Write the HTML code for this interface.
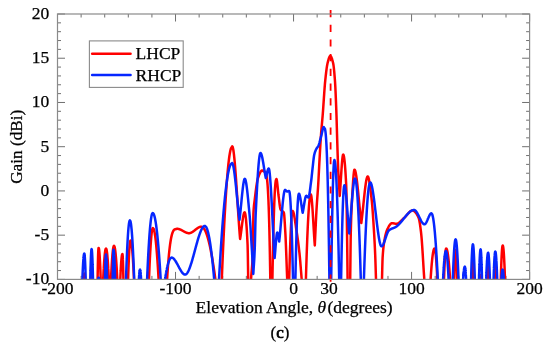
<!DOCTYPE html>
<html><head><meta charset="utf-8"><style>
html,body{margin:0;padding:0;background:#fff;}
svg{display:block;}
text{font-family:"Liberation Serif","Times New Roman",serif;fill:#000;stroke:#000;stroke-width:0.25px;}
</style></head><body>
<svg width="550" height="347" viewBox="0 0 550 347">
<rect width="550" height="347" fill="#fff"/>
<defs><clipPath id="pc"><rect x="57.5" y="14.0" width="472.1" height="265.4"/></clipPath></defs>
<g stroke="#707070" stroke-width="1.0" fill="none">
<line x1="57.50" y1="279.4" x2="57.50" y2="271.9"/><line x1="57.50" y1="14.0" x2="57.50" y2="21.5"/><line x1="81.11" y1="279.4" x2="81.11" y2="275.9"/><line x1="81.11" y1="14.0" x2="81.11" y2="17.5"/><line x1="104.71" y1="279.4" x2="104.71" y2="275.9"/><line x1="104.71" y1="14.0" x2="104.71" y2="17.5"/><line x1="128.31" y1="279.4" x2="128.31" y2="275.9"/><line x1="128.31" y1="14.0" x2="128.31" y2="17.5"/><line x1="151.92" y1="279.4" x2="151.92" y2="275.9"/><line x1="151.92" y1="14.0" x2="151.92" y2="17.5"/><line x1="175.53" y1="279.4" x2="175.53" y2="271.9"/><line x1="175.53" y1="14.0" x2="175.53" y2="21.5"/><line x1="199.13" y1="279.4" x2="199.13" y2="275.9"/><line x1="199.13" y1="14.0" x2="199.13" y2="17.5"/><line x1="222.74" y1="279.4" x2="222.74" y2="275.9"/><line x1="222.74" y1="14.0" x2="222.74" y2="17.5"/><line x1="246.34" y1="279.4" x2="246.34" y2="275.9"/><line x1="246.34" y1="14.0" x2="246.34" y2="17.5"/><line x1="269.94" y1="279.4" x2="269.94" y2="275.9"/><line x1="269.94" y1="14.0" x2="269.94" y2="17.5"/><line x1="293.55" y1="279.4" x2="293.55" y2="271.9"/><line x1="293.55" y1="14.0" x2="293.55" y2="21.5"/><line x1="317.15" y1="279.4" x2="317.15" y2="275.9"/><line x1="317.15" y1="14.0" x2="317.15" y2="17.5"/><line x1="340.76" y1="279.4" x2="340.76" y2="275.9"/><line x1="340.76" y1="14.0" x2="340.76" y2="17.5"/><line x1="364.37" y1="279.4" x2="364.37" y2="275.9"/><line x1="364.37" y1="14.0" x2="364.37" y2="17.5"/><line x1="387.97" y1="279.4" x2="387.97" y2="275.9"/><line x1="387.97" y1="14.0" x2="387.97" y2="17.5"/><line x1="411.57" y1="279.4" x2="411.57" y2="271.9"/><line x1="411.57" y1="14.0" x2="411.57" y2="21.5"/><line x1="435.18" y1="279.4" x2="435.18" y2="275.9"/><line x1="435.18" y1="14.0" x2="435.18" y2="17.5"/><line x1="458.79" y1="279.4" x2="458.79" y2="275.9"/><line x1="458.79" y1="14.0" x2="458.79" y2="17.5"/><line x1="482.39" y1="279.4" x2="482.39" y2="275.9"/><line x1="482.39" y1="14.0" x2="482.39" y2="17.5"/><line x1="506.00" y1="279.4" x2="506.00" y2="275.9"/><line x1="506.00" y1="14.0" x2="506.00" y2="17.5"/><line x1="529.60" y1="279.4" x2="529.60" y2="271.9"/><line x1="529.60" y1="14.0" x2="529.60" y2="21.5"/><line x1="57.5" y1="279.40" x2="65.0" y2="279.40"/><line x1="529.6" y1="279.40" x2="522.1" y2="279.40"/><line x1="57.5" y1="270.55" x2="61.0" y2="270.55"/><line x1="529.6" y1="270.55" x2="526.1" y2="270.55"/><line x1="57.5" y1="261.71" x2="61.0" y2="261.71"/><line x1="529.6" y1="261.71" x2="526.1" y2="261.71"/><line x1="57.5" y1="252.86" x2="61.0" y2="252.86"/><line x1="529.6" y1="252.86" x2="526.1" y2="252.86"/><line x1="57.5" y1="244.01" x2="61.0" y2="244.01"/><line x1="529.6" y1="244.01" x2="526.1" y2="244.01"/><line x1="57.5" y1="235.17" x2="65.0" y2="235.17"/><line x1="529.6" y1="235.17" x2="522.1" y2="235.17"/><line x1="57.5" y1="226.32" x2="61.0" y2="226.32"/><line x1="529.6" y1="226.32" x2="526.1" y2="226.32"/><line x1="57.5" y1="217.47" x2="61.0" y2="217.47"/><line x1="529.6" y1="217.47" x2="526.1" y2="217.47"/><line x1="57.5" y1="208.63" x2="61.0" y2="208.63"/><line x1="529.6" y1="208.63" x2="526.1" y2="208.63"/><line x1="57.5" y1="199.78" x2="61.0" y2="199.78"/><line x1="529.6" y1="199.78" x2="526.1" y2="199.78"/><line x1="57.5" y1="190.93" x2="65.0" y2="190.93"/><line x1="529.6" y1="190.93" x2="522.1" y2="190.93"/><line x1="57.5" y1="182.09" x2="61.0" y2="182.09"/><line x1="529.6" y1="182.09" x2="526.1" y2="182.09"/><line x1="57.5" y1="173.24" x2="61.0" y2="173.24"/><line x1="529.6" y1="173.24" x2="526.1" y2="173.24"/><line x1="57.5" y1="164.39" x2="61.0" y2="164.39"/><line x1="529.6" y1="164.39" x2="526.1" y2="164.39"/><line x1="57.5" y1="155.55" x2="61.0" y2="155.55"/><line x1="529.6" y1="155.55" x2="526.1" y2="155.55"/><line x1="57.5" y1="146.70" x2="65.0" y2="146.70"/><line x1="529.6" y1="146.70" x2="522.1" y2="146.70"/><line x1="57.5" y1="137.85" x2="61.0" y2="137.85"/><line x1="529.6" y1="137.85" x2="526.1" y2="137.85"/><line x1="57.5" y1="129.01" x2="61.0" y2="129.01"/><line x1="529.6" y1="129.01" x2="526.1" y2="129.01"/><line x1="57.5" y1="120.16" x2="61.0" y2="120.16"/><line x1="529.6" y1="120.16" x2="526.1" y2="120.16"/><line x1="57.5" y1="111.31" x2="61.0" y2="111.31"/><line x1="529.6" y1="111.31" x2="526.1" y2="111.31"/><line x1="57.5" y1="102.47" x2="65.0" y2="102.47"/><line x1="529.6" y1="102.47" x2="522.1" y2="102.47"/><line x1="57.5" y1="93.62" x2="61.0" y2="93.62"/><line x1="529.6" y1="93.62" x2="526.1" y2="93.62"/><line x1="57.5" y1="84.77" x2="61.0" y2="84.77"/><line x1="529.6" y1="84.77" x2="526.1" y2="84.77"/><line x1="57.5" y1="75.93" x2="61.0" y2="75.93"/><line x1="529.6" y1="75.93" x2="526.1" y2="75.93"/><line x1="57.5" y1="67.08" x2="61.0" y2="67.08"/><line x1="529.6" y1="67.08" x2="526.1" y2="67.08"/><line x1="57.5" y1="58.23" x2="65.0" y2="58.23"/><line x1="529.6" y1="58.23" x2="522.1" y2="58.23"/><line x1="57.5" y1="49.39" x2="61.0" y2="49.39"/><line x1="529.6" y1="49.39" x2="526.1" y2="49.39"/><line x1="57.5" y1="40.54" x2="61.0" y2="40.54"/><line x1="529.6" y1="40.54" x2="526.1" y2="40.54"/><line x1="57.5" y1="31.69" x2="61.0" y2="31.69"/><line x1="529.6" y1="31.69" x2="526.1" y2="31.69"/><line x1="57.5" y1="22.85" x2="61.0" y2="22.85"/><line x1="529.6" y1="22.85" x2="526.1" y2="22.85"/><line x1="57.5" y1="14.00" x2="65.0" y2="14.00"/><line x1="529.6" y1="14.00" x2="522.1" y2="14.00"/>
</g>
<g clip-path="url(#pc)" fill="none" stroke-width="2.5" stroke-linejoin="round" stroke-linecap="round">
<path d="M83.09,293.40 L83.80,279.40 L83.80,279.31 L83.81,279.23 L83.81,279.14 L83.82,279.06 L83.82,278.97 L83.83,278.89 L83.83,278.80 L83.84,278.72 L83.84,278.63 L83.85,278.54 L83.85,278.46 L83.85,278.37 L83.86,278.29 L83.86,278.20 L83.87,278.12 L83.87,278.03 L83.88,277.95 L83.88,277.86 L83.89,277.78 L83.89,277.69 L83.90,277.60 L83.90,277.52 L83.91,277.43 L83.92,277.35 L83.92,277.26 L83.93,277.18 L83.93,277.09 L83.94,277.01 L83.94,276.92 L83.95,276.83 L83.95,276.75 L83.96,276.66 L83.97,276.58 L83.97,276.49 L83.98,276.41 L83.99,276.32 L83.99,276.24 L84.00,276.15 L84.00,276.07 L84.01,275.98 L84.02,275.89 L84.02,275.81 L84.03,275.72 L84.04,275.64 L84.05,275.55 L84.05,275.47 L84.06,275.38 L84.07,275.30 L84.08,275.21 L84.09,275.12 L84.09,275.04 L84.10,274.95 L84.11,274.87 L84.12,274.78 L84.13,274.70 L84.14,274.61 L84.15,274.53 L84.16,274.44 L84.17,274.36 L84.18,274.27 L84.20,274.18 L84.21,274.10 L84.22,274.01 L84.24,273.93 L84.26,273.84 L84.27,273.76 L84.30,273.67 L84.33,273.59 L84.40,273.50 L84.47,273.59 L84.50,273.67 L84.53,273.76 L84.54,273.84 L84.56,273.93 L84.58,274.01 L84.59,274.10 L84.60,274.18 L84.62,274.27 L84.63,274.36 L84.64,274.44 L84.65,274.53 L84.66,274.61 L84.67,274.70 L84.68,274.78 L84.69,274.87 L84.70,274.95 L84.71,275.04 L84.71,275.12 L84.72,275.21 L84.73,275.30 L84.74,275.38 L84.75,275.47 L84.75,275.55 L84.76,275.64 L84.77,275.72 L84.78,275.81 L84.78,275.89 L84.79,275.98 L84.80,276.07 L84.80,276.15 L84.81,276.24 L84.81,276.32 L84.82,276.41 L84.83,276.49 L84.83,276.58 L84.84,276.66 L84.85,276.75 L84.85,276.83 L84.86,276.92 L84.86,277.01 L84.87,277.09 L84.87,277.18 L84.88,277.26 L84.88,277.35 L84.89,277.43 L84.90,277.52 L84.90,277.60 L84.91,277.69 L84.91,277.78 L84.92,277.86 L84.92,277.95 L84.93,278.03 L84.93,278.12 L84.94,278.20 L84.94,278.29 L84.95,278.37 L84.95,278.46 L84.95,278.54 L84.96,278.63 L84.96,278.72 L84.97,278.80 L84.97,278.89 L84.98,278.97 L84.98,279.06 L84.99,279.14 L84.99,279.23 L85.00,279.31 L85.00,279.40 L85.71,293.40 L90.66,293.40 L90.90,279.40 L90.90,279.15 L90.91,278.90 L90.91,278.64 L90.92,278.39 L90.92,278.14 L90.93,277.89 L90.93,277.63 L90.94,277.38 L90.94,277.13 L90.95,276.88 L90.95,276.63 L90.95,276.37 L90.96,276.12 L90.96,275.87 L90.97,275.62 L90.97,275.37 L90.98,275.11 L90.98,274.86 L90.99,274.61 L90.99,274.36 L91.00,274.10 L91.00,273.85 L91.01,273.60 L91.02,273.35 L91.02,273.10 L91.03,272.84 L91.03,272.59 L91.04,272.34 L91.04,272.09 L91.05,271.83 L91.05,271.58 L91.06,271.33 L91.07,271.08 L91.07,270.83 L91.08,270.57 L91.09,270.32 L91.09,270.07 L91.10,269.82 L91.10,269.57 L91.11,269.31 L91.12,269.06 L91.12,268.81 L91.13,268.56 L91.14,268.30 L91.15,268.05 L91.15,267.80 L91.16,267.55 L91.17,267.30 L91.18,267.04 L91.19,266.79 L91.19,266.54 L91.20,266.29 L91.21,266.03 L91.22,265.78 L91.23,265.53 L91.24,265.28 L91.25,265.03 L91.26,264.77 L91.27,264.52 L91.28,264.27 L91.30,264.02 L91.31,263.77 L91.32,263.51 L91.34,263.26 L91.36,263.01 L91.37,262.76 L91.40,262.50 L91.43,262.25 L91.50,262.00 L91.57,262.25 L91.60,262.50 L91.63,262.76 L91.64,263.01 L91.66,263.26 L91.68,263.51 L91.69,263.77 L91.70,264.02 L91.72,264.27 L91.73,264.52 L91.74,264.77 L91.75,265.03 L91.76,265.28 L91.77,265.53 L91.78,265.78 L91.79,266.03 L91.80,266.29 L91.81,266.54 L91.81,266.79 L91.82,267.04 L91.83,267.30 L91.84,267.55 L91.85,267.80 L91.85,268.05 L91.86,268.30 L91.87,268.56 L91.88,268.81 L91.88,269.06 L91.89,269.31 L91.90,269.57 L91.90,269.82 L91.91,270.07 L91.91,270.32 L91.92,270.57 L91.93,270.83 L91.93,271.08 L91.94,271.33 L91.95,271.58 L91.95,271.83 L91.96,272.09 L91.96,272.34 L91.97,272.59 L91.97,272.84 L91.98,273.10 L91.98,273.35 L91.99,273.60 L92.00,273.85 L92.00,274.10 L92.01,274.36 L92.01,274.61 L92.02,274.86 L92.02,275.11 L92.03,275.37 L92.03,275.62 L92.04,275.87 L92.04,276.12 L92.05,276.37 L92.05,276.63 L92.05,276.88 L92.06,277.13 L92.06,277.38 L92.07,277.63 L92.07,277.89 L92.08,278.14 L92.08,278.39 L92.09,278.64 L92.09,278.90 L92.10,279.15 L92.10,279.40 L92.34,293.40 L97.38,293.40 L97.60,279.40 L97.61,278.94 L97.61,278.49 L97.62,278.03 L97.63,277.57 L97.64,277.12 L97.64,276.66 L97.65,276.20 L97.66,275.75 L97.67,275.29 L97.68,274.83 L97.68,274.38 L97.69,273.92 L97.70,273.47 L97.71,273.01 L97.72,272.55 L97.72,272.10 L97.73,271.64 L97.74,271.18 L97.75,270.73 L97.76,270.27 L97.77,269.81 L97.77,269.36 L97.78,268.90 L97.79,268.44 L97.80,267.99 L97.81,267.53 L97.82,267.07 L97.83,266.62 L97.84,266.16 L97.85,265.70 L97.86,265.25 L97.87,264.79 L97.88,264.33 L97.89,263.88 L97.90,263.42 L97.91,262.97 L97.92,262.51 L97.93,262.05 L97.94,261.60 L97.95,261.14 L97.96,260.68 L97.97,260.23 L97.99,259.77 L98.00,259.31 L98.01,258.86 L98.02,258.40 L98.04,257.94 L98.05,257.49 L98.06,257.03 L98.08,256.57 L98.09,256.12 L98.10,255.66 L98.12,255.20 L98.13,254.75 L98.15,254.29 L98.17,253.83 L98.18,253.38 L98.20,252.92 L98.22,252.47 L98.24,252.01 L98.26,251.55 L98.28,251.10 L98.31,250.64 L98.33,250.18 L98.36,249.73 L98.39,249.27 L98.43,248.81 L98.48,248.36 L98.60,247.90 L98.85,248.36 L98.96,248.81 L99.04,249.27 L99.11,249.73 L99.17,250.18 L99.22,250.64 L99.27,251.10 L99.32,251.55 L99.36,252.01 L99.40,252.47 L99.44,252.92 L99.48,253.38 L99.51,253.83 L99.55,254.29 L99.58,254.75 L99.61,255.20 L99.64,255.66 L99.67,256.12 L99.70,256.57 L99.73,257.03 L99.76,257.49 L99.79,257.94 L99.81,258.40 L99.84,258.86 L99.86,259.31 L99.89,259.77 L99.91,260.23 L99.94,260.68 L99.96,261.14 L99.98,261.60 L100.01,262.05 L100.03,262.51 L100.05,262.97 L100.07,263.42 L100.10,263.88 L100.12,264.33 L100.14,264.79 L100.16,265.25 L100.18,265.70 L100.20,266.16 L100.22,266.62 L100.24,267.07 L100.26,267.53 L100.28,267.99 L100.30,268.44 L100.31,268.90 L100.33,269.36 L100.35,269.81 L100.37,270.27 L100.39,270.73 L100.41,271.18 L100.42,271.64 L100.44,272.10 L100.46,272.55 L100.47,273.01 L100.49,273.47 L100.51,273.92 L100.53,274.38 L100.54,274.83 L100.56,275.29 L100.57,275.75 L100.59,276.20 L100.61,276.66 L100.62,277.12 L100.64,277.57 L100.65,278.03 L100.67,278.49 L100.68,278.94 L100.70,279.40 L101.17,293.40 L102.57,293.40 L103.20,279.40 L103.22,278.95 L103.24,278.50 L103.26,278.06 L103.28,277.61 L103.30,277.16 L103.32,276.71 L103.35,276.27 L103.37,275.82 L103.39,275.37 L103.41,274.92 L103.43,274.47 L103.46,274.03 L103.48,273.58 L103.50,273.13 L103.52,272.68 L103.55,272.23 L103.57,271.79 L103.59,271.34 L103.62,270.89 L103.64,270.44 L103.66,270.00 L103.69,269.55 L103.71,269.10 L103.74,268.65 L103.76,268.20 L103.79,267.76 L103.82,267.31 L103.84,266.86 L103.87,266.41 L103.89,265.97 L103.92,265.52 L103.95,265.07 L103.98,264.62 L104.01,264.17 L104.03,263.73 L104.06,263.28 L104.09,262.83 L104.12,262.38 L104.15,261.93 L104.18,261.49 L104.22,261.04 L104.25,260.59 L104.28,260.14 L104.31,259.70 L104.35,259.25 L104.38,258.80 L104.42,258.35 L104.46,257.90 L104.49,257.46 L104.53,257.01 L104.57,256.56 L104.61,256.11 L104.65,255.67 L104.69,255.22 L104.74,254.77 L104.78,254.32 L104.83,253.87 L104.88,253.43 L104.93,252.98 L104.99,252.53 L105.05,252.08 L105.11,251.63 L105.17,251.19 L105.25,250.74 L105.33,250.29 L105.42,249.84 L105.52,249.40 L105.66,248.95 L106.00,248.50 L106.34,248.95 L106.48,249.40 L106.58,249.84 L106.67,250.29 L106.75,250.74 L106.83,251.19 L106.89,251.63 L106.95,252.08 L107.01,252.53 L107.07,252.98 L107.12,253.43 L107.17,253.87 L107.22,254.32 L107.26,254.77 L107.31,255.22 L107.35,255.67 L107.39,256.11 L107.43,256.56 L107.47,257.01 L107.51,257.46 L107.54,257.90 L107.58,258.35 L107.62,258.80 L107.65,259.25 L107.69,259.70 L107.72,260.14 L107.75,260.59 L107.78,261.04 L107.82,261.49 L107.85,261.93 L107.88,262.38 L107.91,262.83 L107.94,263.28 L107.97,263.73 L107.99,264.17 L108.02,264.62 L108.05,265.07 L108.08,265.52 L108.11,265.97 L108.13,266.41 L108.16,266.86 L108.18,267.31 L108.21,267.76 L108.24,268.20 L108.26,268.65 L108.29,269.10 L108.31,269.55 L108.34,270.00 L108.36,270.44 L108.38,270.89 L108.41,271.34 L108.43,271.79 L108.45,272.23 L108.48,272.68 L108.50,273.13 L108.52,273.58 L108.54,274.03 L108.57,274.47 L108.59,274.92 L108.61,275.37 L108.63,275.82 L108.65,276.27 L108.68,276.71 L108.70,277.16 L108.72,277.61 L108.74,278.06 L108.76,278.50 L108.78,278.95 L108.80,279.40 L109.43,293.40 L110.38,293.40 L111.00,279.40 L111.02,278.91 L111.04,278.43 L111.07,277.94 L111.09,277.45 L111.11,276.97 L111.13,276.48 L111.16,275.99 L111.18,275.50 L111.20,275.02 L111.23,274.53 L111.25,274.04 L111.27,273.56 L111.30,273.07 L111.32,272.58 L111.35,272.10 L111.37,271.61 L111.40,271.12 L111.42,270.63 L111.45,270.15 L111.47,269.66 L111.50,269.17 L111.52,268.69 L111.55,268.20 L111.58,267.71 L111.60,267.23 L111.63,266.74 L111.66,266.25 L111.69,265.77 L111.72,265.28 L111.74,264.79 L111.77,264.30 L111.80,263.82 L111.83,263.33 L111.86,262.84 L111.89,262.36 L111.93,261.87 L111.96,261.38 L111.99,260.90 L112.02,260.41 L112.06,259.92 L112.09,259.43 L112.12,258.95 L112.16,258.46 L112.19,257.97 L112.23,257.49 L112.27,257.00 L112.31,256.51 L112.34,256.03 L112.38,255.54 L112.43,255.05 L112.47,254.57 L112.51,254.08 L112.56,253.59 L112.60,253.10 L112.65,252.62 L112.70,252.13 L112.75,251.64 L112.80,251.16 L112.86,250.67 L112.92,250.18 L112.98,249.70 L113.04,249.21 L113.12,248.72 L113.19,248.23 L113.28,247.75 L113.37,247.26 L113.49,246.77 L113.64,246.29 L114.00,245.80 L114.40,246.29 L114.56,246.77 L114.69,247.26 L114.79,247.75 L114.89,248.23 L114.97,248.72 L115.05,249.21 L115.12,249.70 L115.19,250.18 L115.26,250.67 L115.32,251.16 L115.38,251.64 L115.43,252.13 L115.49,252.62 L115.54,253.10 L115.59,253.59 L115.64,254.08 L115.69,254.57 L115.73,255.05 L115.78,255.54 L115.82,256.03 L115.86,256.51 L115.91,257.00 L115.95,257.49 L115.99,257.97 L116.03,258.46 L116.06,258.95 L116.10,259.43 L116.14,259.92 L116.18,260.41 L116.21,260.90 L116.25,261.38 L116.28,261.87 L116.32,262.36 L116.35,262.84 L116.38,263.33 L116.42,263.82 L116.45,264.30 L116.48,264.79 L116.51,265.28 L116.54,265.77 L116.57,266.25 L116.61,266.74 L116.64,267.23 L116.66,267.71 L116.69,268.20 L116.72,268.69 L116.75,269.17 L116.78,269.66 L116.81,270.15 L116.84,270.63 L116.86,271.12 L116.89,271.61 L116.92,272.10 L116.95,272.58 L116.97,273.07 L117.00,273.56 L117.03,274.04 L117.05,274.53 L117.08,275.02 L117.10,275.50 L117.13,275.99 L117.15,276.48 L117.18,276.97 L117.20,277.45 L117.23,277.94 L117.25,278.43 L117.28,278.91 L117.30,279.40 L117.99,293.40 L119.72,293.40 L120.30,279.40 L120.32,279.03 L120.33,278.66 L120.35,278.30 L120.36,277.93 L120.38,277.56 L120.39,277.19 L120.41,276.82 L120.43,276.46 L120.44,276.09 L120.46,275.72 L120.47,275.35 L120.49,274.98 L120.51,274.61 L120.53,274.25 L120.54,273.88 L120.56,273.51 L120.58,273.14 L120.59,272.77 L120.61,272.41 L120.63,272.04 L120.65,271.67 L120.67,271.30 L120.69,270.93 L120.70,270.57 L120.72,270.20 L120.74,269.83 L120.76,269.46 L120.78,269.09 L120.80,268.72 L120.82,268.36 L120.84,267.99 L120.86,267.62 L120.88,267.25 L120.90,266.88 L120.93,266.52 L120.95,266.15 L120.97,265.78 L120.99,265.41 L121.02,265.04 L121.04,264.68 L121.06,264.31 L121.09,263.94 L121.11,263.57 L121.14,263.20 L121.16,262.83 L121.19,262.47 L121.21,262.10 L121.24,261.73 L121.27,261.36 L121.30,260.99 L121.33,260.63 L121.36,260.26 L121.39,259.89 L121.42,259.52 L121.45,259.15 L121.49,258.79 L121.52,258.42 L121.56,258.05 L121.60,257.68 L121.64,257.31 L121.68,256.94 L121.73,256.58 L121.78,256.21 L121.83,255.84 L121.89,255.47 L121.96,255.10 L122.04,254.74 L122.15,254.37 L122.40,254.00 L122.52,254.37 L122.57,254.74 L122.61,255.10 L122.64,255.47 L122.67,255.84 L122.69,256.21 L122.72,256.58 L122.74,256.94 L122.76,257.31 L122.78,257.68 L122.80,258.05 L122.82,258.42 L122.83,258.79 L122.85,259.15 L122.87,259.52 L122.88,259.89 L122.90,260.26 L122.91,260.63 L122.92,260.99 L122.94,261.36 L122.95,261.73 L122.96,262.10 L122.98,262.47 L122.99,262.83 L123.00,263.20 L123.01,263.57 L123.03,263.94 L123.04,264.31 L123.05,264.68 L123.06,265.04 L123.07,265.41 L123.08,265.78 L123.09,266.15 L123.10,266.52 L123.11,266.88 L123.12,267.25 L123.13,267.62 L123.14,267.99 L123.15,268.36 L123.16,268.72 L123.17,269.09 L123.18,269.46 L123.19,269.83 L123.20,270.20 L123.21,270.57 L123.22,270.93 L123.23,271.30 L123.23,271.67 L123.24,272.04 L123.25,272.41 L123.26,272.77 L123.27,273.14 L123.28,273.51 L123.28,273.88 L123.29,274.25 L123.30,274.61 L123.31,274.98 L123.32,275.35 L123.32,275.72 L123.33,276.09 L123.34,276.46 L123.35,276.82 L123.36,277.19 L123.36,277.56 L123.37,277.93 L123.38,278.30 L123.39,278.66 L123.39,279.03 L123.40,279.40 L123.68,293.40 L127.67,293.40 L128.10,279.40 L128.12,278.84 L128.14,278.27 L128.15,277.71 L128.17,277.14 L128.19,276.58 L128.21,276.02 L128.22,275.45 L128.24,274.89 L128.26,274.33 L128.28,273.76 L128.30,273.20 L128.32,272.63 L128.34,272.07 L128.36,271.51 L128.38,270.94 L128.40,270.38 L128.42,269.82 L128.44,269.25 L128.46,268.69 L128.48,268.12 L128.50,267.56 L128.52,267.00 L128.54,266.43 L128.56,265.87 L128.58,265.31 L128.61,264.74 L128.63,264.18 L128.65,263.61 L128.67,263.05 L128.70,262.49 L128.72,261.92 L128.74,261.36 L128.77,260.80 L128.79,260.23 L128.82,259.67 L128.84,259.10 L128.87,258.54 L128.89,257.98 L128.92,257.41 L128.94,256.85 L128.97,256.29 L129.00,255.72 L129.03,255.16 L129.06,254.59 L129.08,254.03 L129.11,253.47 L129.14,252.90 L129.18,252.34 L129.21,251.78 L129.24,251.21 L129.27,250.65 L129.31,250.08 L129.34,249.52 L129.38,248.96 L129.42,248.39 L129.46,247.83 L129.50,247.27 L129.54,246.70 L129.59,246.14 L129.63,245.57 L129.68,245.01 L129.74,244.45 L129.79,243.88 L129.85,243.32 L129.92,242.76 L130.00,242.19 L130.09,241.63 L130.21,241.06 L130.50,240.50 L130.92,241.06 L131.10,241.63 L131.23,242.19 L131.34,242.76 L131.44,243.32 L131.53,243.88 L131.61,244.45 L131.69,245.01 L131.76,245.57 L131.83,246.14 L131.90,246.70 L131.96,247.27 L132.02,247.83 L132.08,248.39 L132.13,248.96 L132.19,249.52 L132.24,250.08 L132.29,250.65 L132.34,251.21 L132.38,251.78 L132.43,252.34 L132.48,252.90 L132.52,253.47 L132.56,254.03 L132.61,254.59 L132.65,255.16 L132.69,255.72 L132.73,256.29 L132.77,256.85 L132.81,257.41 L132.85,257.98 L132.88,258.54 L132.92,259.10 L132.96,259.67 L132.99,260.23 L133.03,260.80 L133.06,261.36 L133.10,261.92 L133.13,262.49 L133.16,263.05 L133.20,263.61 L133.23,264.18 L133.26,264.74 L133.29,265.31 L133.33,265.87 L133.36,266.43 L133.39,267.00 L133.42,267.56 L133.45,268.12 L133.48,268.69 L133.51,269.25 L133.54,269.82 L133.57,270.38 L133.60,270.94 L133.62,271.51 L133.65,272.07 L133.68,272.63 L133.71,273.20 L133.74,273.76 L133.76,274.33 L133.79,274.89 L133.82,275.45 L133.84,276.02 L133.87,276.58 L133.90,277.14 L133.92,277.71 L133.95,278.27 L133.97,278.84 L134.00,279.40 L134.63,293.40 L148.47,293.40 L149.00,279.40 L149.03,278.66 L149.06,277.91 L149.09,277.17 L149.11,276.42 L149.14,275.68 L149.17,274.93 L149.20,274.19 L149.23,273.44 L149.26,272.70 L149.29,271.95 L149.32,271.21 L149.36,270.46 L149.39,269.72 L149.42,268.97 L149.45,268.23 L149.48,267.48 L149.51,266.74 L149.55,265.99 L149.58,265.25 L149.61,264.50 L149.65,263.76 L149.68,263.01 L149.72,262.27 L149.75,261.52 L149.79,260.78 L149.82,260.03 L149.86,259.29 L149.89,258.54 L149.93,257.80 L149.97,257.05 L150.01,256.31 L150.04,255.56 L150.08,254.82 L150.12,254.07 L150.16,253.33 L150.20,252.58 L150.24,251.84 L150.29,251.09 L150.33,250.35 L150.37,249.60 L150.42,248.86 L150.46,248.11 L150.51,247.37 L150.55,246.62 L150.60,245.88 L150.65,245.13 L150.70,244.39 L150.75,243.64 L150.80,242.90 L150.85,242.15 L150.91,241.41 L150.96,240.66 L151.02,239.92 L151.08,239.17 L151.14,238.43 L151.21,237.68 L151.27,236.94 L151.34,236.19 L151.42,235.45 L151.49,234.70 L151.57,233.96 L151.66,233.21 L151.75,232.47 L151.85,231.72 L151.96,230.98 L152.09,230.23 L152.24,229.49 L152.43,228.74 L152.90,228.00 L153.59,228.74 L153.87,229.49 L154.09,230.23 L154.27,230.98 L154.43,231.72 L154.58,232.47 L154.72,233.21 L154.84,233.96 L154.96,234.70 L155.07,235.45 L155.18,236.19 L155.28,236.94 L155.37,237.68 L155.47,238.43 L155.56,239.17 L155.64,239.92 L155.73,240.66 L155.81,241.41 L155.89,242.15 L155.97,242.90 L156.04,243.64 L156.12,244.39 L156.19,245.13 L156.26,245.88 L156.33,246.62 L156.40,247.37 L156.47,248.11 L156.53,248.86 L156.60,249.60 L156.66,250.35 L156.72,251.09 L156.78,251.84 L156.84,252.58 L156.90,253.33 L156.96,254.07 L157.02,254.82 L157.07,255.56 L157.13,256.31 L157.19,257.05 L157.24,257.80 L157.29,258.54 L157.35,259.29 L157.40,260.03 L157.45,260.78 L157.50,261.52 L157.55,262.27 L157.60,263.01 L157.65,263.76 L157.70,264.50 L157.75,265.25 L157.80,265.99 L157.85,266.74 L157.90,267.48 L157.94,268.23 L157.99,268.97 L158.04,269.72 L158.08,270.46 L158.13,271.21 L158.17,271.95 L158.22,272.70 L158.26,273.44 L158.30,274.19 L158.35,274.93 L158.39,275.68 L158.43,276.42 L158.47,277.17 L158.52,277.91 L158.56,278.66 L158.60,279.40 L159.38,293.40 L166.26,293.40 L167.10,279.40 L167.14,278.67 L167.19,277.93 L167.23,277.20 L167.28,276.47 L167.33,275.73 L167.37,275.00 L167.42,274.27 L167.47,273.53 L167.51,272.80 L167.56,272.07 L167.61,271.33 L167.66,270.60 L167.71,269.87 L167.76,269.13 L167.82,268.40 L167.87,267.67 L167.92,266.93 L167.98,266.20 L168.03,265.47 L168.09,264.73 L168.14,264.00 L168.20,263.27 L168.26,262.53 L168.32,261.80 L168.38,261.07 L168.44,260.33 L168.50,259.60 L168.56,258.87 L168.62,258.13 L168.69,257.40 L168.75,256.67 L168.82,255.93 L168.89,255.20 L168.96,254.47 L169.03,253.73 L169.10,253.00 L169.18,252.27 L169.26,251.53 L169.33,250.80 L169.41,250.07 L169.49,249.33 L169.58,248.60 L169.66,247.87 L169.75,247.13 L169.84,246.40 L169.94,245.67 L170.03,244.93 L170.13,244.20 L170.23,243.47 L170.34,242.73 L170.45,242.00 L170.57,241.27 L170.69,240.53 L170.81,239.80 L170.94,239.07 L171.08,238.33 L171.22,237.60 L171.38,236.87 L171.54,236.13 L171.72,235.40 L171.91,234.67 L172.12,233.93 L172.35,233.20 L172.60,232.47 L172.90,231.73 L173.26,231.00 L173.71,230.27 L174.36,229.53 L177.20,228.80 L177.35,228.80 L177.50,228.81 L177.65,228.82 L177.81,228.83 L177.96,228.85 L178.11,228.87 L178.26,228.90 L178.41,228.93 L178.56,228.96 L178.71,229.00 L178.86,229.04 L179.02,229.08 L179.17,229.13 L179.32,229.17 L179.47,229.23 L179.62,229.28 L179.77,229.34 L179.92,229.39 L180.07,229.46 L180.23,229.52 L180.38,229.59 L180.53,229.65 L180.68,229.72 L180.83,229.79 L180.98,229.87 L181.13,229.94 L181.28,230.02 L181.44,230.09 L181.59,230.17 L181.74,230.25 L181.89,230.33 L182.04,230.41 L182.19,230.50 L182.34,230.58 L182.49,230.66 L182.65,230.75 L182.80,230.83 L182.95,230.92 L183.10,231.00 L183.25,231.08 L183.40,231.17 L183.55,231.25 L183.71,231.34 L183.86,231.42 L184.01,231.50 L184.16,231.59 L184.31,231.67 L184.46,231.75 L184.61,231.83 L184.76,231.91 L184.92,231.98 L185.07,232.06 L185.22,232.13 L185.37,232.21 L185.52,232.28 L185.67,232.35 L185.82,232.41 L185.97,232.48 L186.13,232.54 L186.28,232.61 L186.43,232.66 L186.58,232.72 L186.73,232.77 L186.88,232.83 L187.03,232.87 L187.18,232.92 L187.34,232.96 L187.49,233.00 L187.64,233.04 L187.79,233.07 L187.94,233.10 L188.09,233.13 L188.24,233.15 L188.39,233.17 L188.55,233.18 L188.70,233.19 L188.85,233.20 L189.00,233.20 L189.15,233.20 L189.30,233.19 L189.45,233.17 L189.60,233.16 L189.75,233.13 L189.90,233.10 L190.05,233.07 L190.20,233.03 L190.35,232.98 L190.50,232.93 L190.65,232.88 L190.80,232.82 L190.95,232.76 L191.10,232.70 L191.25,232.63 L191.40,232.55 L191.55,232.48 L191.70,232.40 L191.85,232.31 L192.00,232.23 L192.15,232.14 L192.30,232.05 L192.45,231.95 L192.60,231.86 L192.75,231.76 L192.90,231.65 L193.05,231.55 L193.20,231.44 L193.35,231.34 L193.50,231.23 L193.65,231.12 L193.80,231.00 L193.95,230.89 L194.10,230.77 L194.25,230.66 L194.40,230.54 L194.55,230.42 L194.70,230.31 L194.85,230.19 L195.00,230.07 L195.15,229.95 L195.30,229.83 L195.45,229.71 L195.60,229.59 L195.75,229.48 L195.90,229.36 L196.05,229.24 L196.20,229.13 L196.35,229.01 L196.50,228.90 L196.65,228.78 L196.80,228.67 L196.95,228.56 L197.10,228.46 L197.25,228.35 L197.40,228.25 L197.55,228.14 L197.70,228.04 L197.85,227.95 L198.00,227.85 L198.15,227.76 L198.30,227.67 L198.45,227.59 L198.60,227.50 L198.75,227.42 L198.90,227.35 L199.05,227.27 L199.20,227.20 L199.35,227.14 L199.50,227.08 L199.65,227.02 L199.80,226.97 L199.95,226.92 L200.10,226.87 L200.25,226.83 L200.40,226.80 L200.55,226.77 L200.70,226.74 L200.85,226.73 L201.00,226.71 L201.15,226.70 L201.30,226.70 L203.00,227.46 L203.70,228.23 L204.24,228.99 L204.69,229.76 L205.10,230.52 L205.46,231.28 L205.79,232.05 L206.10,232.81 L206.39,233.57 L206.67,234.34 L206.93,235.10 L207.18,235.87 L207.42,236.63 L207.65,237.39 L207.87,238.16 L208.09,238.92 L208.30,239.68 L208.50,240.45 L208.70,241.21 L208.89,241.98 L209.08,242.74 L209.26,243.50 L209.44,244.27 L209.62,245.03 L209.79,245.79 L209.96,246.56 L210.12,247.32 L210.28,248.09 L210.44,248.85 L210.60,249.61 L210.75,250.38 L210.90,251.14 L211.05,251.90 L211.20,252.67 L211.34,253.43 L211.48,254.20 L211.63,254.96 L211.76,255.72 L211.90,256.49 L212.04,257.25 L212.17,258.01 L212.30,258.78 L212.43,259.54 L212.56,260.31 L212.69,261.07 L212.81,261.83 L212.94,262.60 L213.06,263.36 L213.18,264.12 L213.30,264.89 L213.42,265.65 L213.54,266.42 L213.66,267.18 L213.77,267.94 L213.89,268.71 L214.00,269.47 L214.12,270.23 L214.23,271.00 L214.34,271.76 L214.45,272.53 L214.56,273.29 L214.67,274.05 L214.77,274.82 L214.88,275.58 L214.99,276.34 L215.09,277.11 L215.19,277.87 L215.30,278.64 L215.40,279.40 L217.27,293.40 L221.25,293.40 L221.80,279.40 L221.88,277.47 L221.95,275.54 L222.03,273.62 L222.11,271.69 L222.18,269.76 L222.26,267.83 L222.34,265.91 L222.42,263.98 L222.50,262.05 L222.58,260.12 L222.66,258.20 L222.75,256.27 L222.83,254.34 L222.91,252.41 L223.00,250.49 L223.09,248.56 L223.17,246.63 L223.26,244.70 L223.35,242.78 L223.44,240.85 L223.53,238.92 L223.62,236.99 L223.71,235.07 L223.80,233.14 L223.90,231.21 L223.99,229.28 L224.09,227.36 L224.18,225.43 L224.28,223.50 L224.38,221.57 L224.48,219.65 L224.58,217.72 L224.69,215.79 L224.79,213.86 L224.90,211.94 L225.01,210.01 L225.12,208.08 L225.23,206.15 L225.34,204.23 L225.46,202.30 L225.57,200.37 L225.69,198.44 L225.82,196.52 L225.94,194.59 L226.07,192.66 L226.20,190.73 L226.33,188.81 L226.46,186.88 L226.60,184.95 L226.74,183.02 L226.89,181.10 L227.04,179.17 L227.19,177.24 L227.35,175.31 L227.52,173.39 L227.69,171.46 L227.86,169.53 L228.05,167.60 L228.24,165.68 L228.44,163.75 L228.66,161.82 L228.89,159.89 L229.13,157.97 L229.40,156.04 L229.70,154.11 L230.03,152.18 L230.43,150.26 L230.95,148.33 L232.20,146.40 L232.35,146.47 L232.50,146.67 L232.66,147.00 L232.81,147.45 L232.96,148.03 L233.11,148.72 L233.26,149.53 L233.42,150.45 L233.57,151.47 L233.72,152.59 L233.87,153.81 L234.02,155.12 L234.17,156.53 L234.33,158.02 L234.48,159.59 L234.63,161.24 L234.78,162.96 L234.93,164.75 L235.09,166.61 L235.24,168.53 L235.39,170.51 L235.54,172.54 L235.69,174.62 L235.85,176.75 L236.00,178.92 L236.15,181.12 L236.30,183.37 L236.45,185.64 L236.61,187.94 L236.76,190.26 L236.91,192.60 L237.06,194.95 L237.21,197.32 L237.37,199.69 L237.52,202.07 L237.67,204.44 L237.82,206.81 L237.97,209.16 L238.12,211.51 L238.28,213.84 L238.43,216.14 L238.58,218.43 L238.73,220.68 L238.88,222.90 L239.04,225.08 L239.19,227.22 L239.34,229.32 L239.49,231.37 L239.64,233.37 L239.80,235.31 L239.95,237.19 L240.10,239.00 L240.25,238.08 L240.40,237.11 L240.55,236.09 L240.70,235.03 L240.85,233.93 L241.00,232.81 L241.15,231.66 L241.30,230.49 L241.45,229.31 L241.60,228.12 L241.75,226.94 L241.90,225.76 L242.05,224.59 L242.20,223.44 L242.35,222.31 L242.50,221.22 L242.65,220.15 L242.80,219.14 L242.95,218.16 L243.10,217.24 L243.25,216.39 L243.40,215.59 L243.55,214.87 L243.70,214.22 L243.85,213.66 L244.00,213.19 L244.15,212.81 L244.30,212.53 L244.45,212.36 L244.60,212.30 L244.75,212.38 L244.90,212.63 L245.05,213.05 L245.20,213.63 L245.35,214.37 L245.50,215.28 L245.65,216.36 L245.80,217.60 L245.95,218.99 L246.10,220.56 L246.25,222.28 L246.40,224.17 L246.55,226.21 L246.70,228.42 L246.85,230.79 L247.00,233.31 L247.15,236.00 L247.30,238.84 L247.45,241.84 L247.60,245.00 L247.80,253.29 L248.00,266.34 L248.20,279.40 L248.44,293.40 L250.10,293.40 L251.00,279.40 L251.16,277.12 L251.32,275.10 L251.47,273.27 L251.63,271.52 L251.79,269.78 L251.95,267.94 L252.11,265.93 L252.27,263.65 L252.43,261.00 L252.58,257.90 L252.74,254.27 L252.90,250.00 L253.07,239.29 L253.23,223.81 L253.40,214.00 L253.56,210.93 L253.72,208.49 L253.89,206.54 L254.05,204.97 L254.21,203.65 L254.38,202.46 L254.54,201.29 L254.70,200.00 L254.85,198.72 L255.00,197.45 L255.15,196.18 L255.30,194.92 L255.45,193.68 L255.60,192.45 L255.75,191.24 L255.90,190.06 L256.05,188.90 L256.20,187.78 L256.35,186.69 L256.50,185.64 L256.65,184.63 L256.80,183.67 L256.95,182.75 L257.10,181.89 L257.25,181.08 L257.40,180.33 L257.55,179.65 L257.70,179.03 L257.85,178.48 L258.00,178.00 L258.15,177.56 L258.30,177.12 L258.46,176.69 L258.61,176.26 L258.76,175.85 L258.91,175.44 L259.06,175.04 L259.21,174.65 L259.37,174.28 L259.52,173.91 L259.67,173.56 L259.82,173.22 L259.97,172.90 L260.13,172.60 L260.28,172.31 L260.43,172.04 L260.58,171.79 L260.73,171.55 L260.89,171.34 L261.04,171.15 L261.19,170.98 L261.34,170.84 L261.49,170.72 L261.64,170.63 L261.80,170.56 L261.95,170.51 L262.10,170.50 L265.62,172.08 L266.14,173.66 L266.48,175.23 L266.74,176.81 L266.95,178.39 L267.13,179.97 L267.29,181.55 L267.43,183.13 L267.56,184.70 L267.67,186.28 L267.78,187.86 L267.88,189.44 L267.97,191.02 L268.06,192.60 L268.14,194.17 L268.22,195.75 L268.30,197.33 L268.37,198.91 L268.44,200.49 L268.50,202.07 L268.56,203.64 L268.62,205.22 L268.68,206.80 L268.74,208.38 L268.79,209.96 L268.85,211.53 L268.90,213.11 L268.95,214.69 L268.99,216.27 L269.04,217.85 L269.09,219.43 L269.13,221.00 L269.18,222.58 L269.22,224.16 L269.26,225.74 L269.30,227.32 L269.34,228.90 L269.38,230.47 L269.42,232.05 L269.45,233.63 L269.49,235.21 L269.52,236.79 L269.56,238.37 L269.59,239.94 L269.63,241.52 L269.66,243.10 L269.69,244.68 L269.73,246.26 L269.76,247.83 L269.79,249.41 L269.82,250.99 L269.85,252.57 L269.88,254.15 L269.91,255.73 L269.94,257.30 L269.96,258.88 L269.99,260.46 L270.02,262.04 L270.05,263.62 L270.07,265.20 L270.10,266.77 L270.13,268.35 L270.15,269.93 L270.18,271.51 L270.20,273.09 L270.23,274.67 L270.25,276.24 L270.28,277.82 L270.30,279.40 L270.51,293.40 L272.15,293.40 L272.40,279.40 L272.43,277.94 L272.45,276.49 L272.48,275.03 L272.51,273.58 L272.53,272.12 L272.56,270.67 L272.59,269.21 L272.62,267.76 L272.64,266.30 L272.67,264.85 L272.70,263.39 L272.73,261.94 L272.76,260.48 L272.79,259.03 L272.82,257.57 L272.85,256.12 L272.88,254.66 L272.91,253.21 L272.94,251.75 L272.97,250.30 L273.00,248.84 L273.03,247.39 L273.07,245.93 L273.10,244.48 L273.13,243.02 L273.17,241.57 L273.20,240.11 L273.24,238.66 L273.27,237.20 L273.31,235.75 L273.34,234.29 L273.38,232.84 L273.42,231.38 L273.45,229.93 L273.49,228.47 L273.53,227.02 L273.57,225.56 L273.61,224.11 L273.65,222.65 L273.69,221.20 L273.73,219.74 L273.78,218.29 L273.82,216.83 L273.87,215.38 L273.91,213.92 L273.96,212.47 L274.01,211.01 L274.06,209.56 L274.11,208.10 L274.16,206.65 L274.22,205.19 L274.27,203.74 L274.33,202.28 L274.39,200.83 L274.45,199.37 L274.51,197.92 L274.58,196.46 L274.65,195.01 L274.72,193.55 L274.80,192.10 L274.88,190.64 L274.97,189.19 L275.07,187.73 L275.17,186.28 L275.29,184.82 L275.42,183.37 L275.59,181.91 L275.80,180.46 L276.40,179.00 L276.56,179.17 L276.71,179.66 L276.87,180.44 L277.03,181.45 L277.19,182.66 L277.34,184.03 L277.50,185.52 L277.66,187.09 L277.81,188.71 L277.97,190.32 L278.13,191.90 L278.29,193.40 L278.44,194.78 L278.60,196.00 L278.75,197.15 L278.91,198.38 L279.06,199.66 L279.22,200.96 L279.37,202.25 L279.52,203.52 L279.68,204.74 L279.83,205.88 L279.98,206.91 L280.14,207.82 L280.29,208.57 L280.45,209.14 L280.60,209.50 L280.76,209.75 L280.93,209.96 L281.09,210.14 L281.25,210.30 L281.42,210.44 L281.58,210.57 L281.75,210.69 L281.91,210.81 L282.07,210.93 L282.24,211.06 L282.40,211.20 L282.56,211.33 L282.71,211.45 L282.87,211.55 L283.02,211.66 L283.18,211.77 L283.33,211.90 L283.49,212.06 L283.64,212.26 L283.80,212.50 L283.95,213.03 L284.10,214.05 L284.25,215.49 L284.40,217.30 L284.55,219.41 L284.70,221.74 L284.85,224.23 L285.00,226.81 L285.15,229.43 L285.30,232.00 L285.46,234.88 L285.62,238.13 L285.77,241.70 L285.93,245.53 L286.09,249.58 L286.25,253.79 L286.41,258.10 L286.57,262.47 L286.73,266.83 L286.88,271.15 L287.04,275.35 L287.20,279.40 L287.76,293.40 L288.85,293.40 L289.20,279.40 L289.22,278.41 L289.25,277.42 L289.27,276.43 L289.30,275.43 L289.33,274.44 L289.35,273.45 L289.38,272.46 L289.40,271.47 L289.43,270.48 L289.46,269.49 L289.48,268.50 L289.51,267.50 L289.54,266.51 L289.56,265.52 L289.59,264.53 L289.62,263.54 L289.65,262.55 L289.68,261.56 L289.71,260.57 L289.73,259.57 L289.76,258.58 L289.79,257.59 L289.82,256.60 L289.85,255.61 L289.88,254.62 L289.92,253.63 L289.95,252.63 L289.98,251.64 L290.01,250.65 L290.04,249.66 L290.08,248.67 L290.11,247.68 L290.14,246.69 L290.18,245.70 L290.21,244.70 L290.25,243.71 L290.28,242.72 L290.32,241.73 L290.36,240.74 L290.40,239.75 L290.43,238.76 L290.47,237.77 L290.51,236.77 L290.55,235.78 L290.59,234.79 L290.64,233.80 L290.68,232.81 L290.72,231.82 L290.77,230.83 L290.82,229.83 L290.86,228.84 L290.91,227.85 L290.96,226.86 L291.01,225.87 L291.07,224.88 L291.12,223.89 L291.18,222.90 L291.24,221.90 L291.31,220.91 L291.37,219.92 L291.44,218.93 L291.52,217.94 L291.60,216.95 L291.68,215.96 L291.78,214.97 L291.89,213.97 L292.02,212.98 L292.19,211.99 L292.60,211.00 L292.75,211.05 L292.90,211.20 L293.06,211.44 L293.21,211.77 L293.36,212.18 L293.51,212.67 L293.66,213.23 L293.81,213.86 L293.97,214.55 L294.12,215.30 L294.27,216.11 L294.42,216.96 L294.57,217.85 L294.73,218.78 L294.88,219.74 L295.03,220.73 L295.18,221.75 L295.33,222.78 L295.49,223.82 L295.64,224.87 L295.79,225.92 L295.94,226.97 L296.09,228.01 L296.24,229.04 L296.40,230.05 L296.55,231.04 L296.70,232.00 L296.86,232.98 L297.01,233.98 L297.17,235.00 L297.32,236.05 L297.48,237.12 L297.63,238.21 L297.79,239.33 L297.94,240.48 L298.10,241.65 L298.26,242.85 L298.41,244.07 L298.57,245.33 L298.72,246.61 L298.88,247.93 L299.03,249.27 L299.19,250.65 L299.34,252.06 L299.50,253.50 L299.66,255.02 L299.81,256.65 L299.97,258.35 L300.13,260.13 L300.29,261.97 L300.44,263.86 L300.60,265.79 L300.76,267.75 L300.91,269.72 L301.07,271.69 L301.23,273.66 L301.39,275.61 L301.54,277.52 L301.70,279.40 L302.89,293.40 L305.50,293.40 L305.90,279.40 L305.94,278.17 L305.97,276.94 L306.01,275.71 L306.04,274.48 L306.08,273.25 L306.12,272.02 L306.16,270.79 L306.19,269.56 L306.23,268.33 L306.27,267.10 L306.31,265.87 L306.35,264.63 L306.39,263.40 L306.43,262.17 L306.47,260.94 L306.51,259.71 L306.55,258.48 L306.59,257.25 L306.63,256.02 L306.67,254.79 L306.71,253.56 L306.76,252.33 L306.80,251.10 L306.84,249.87 L306.89,248.64 L306.93,247.41 L306.98,246.18 L307.02,244.95 L307.07,243.72 L307.12,242.49 L307.16,241.26 L307.21,240.03 L307.26,238.80 L307.31,237.57 L307.36,236.33 L307.41,235.10 L307.46,233.87 L307.52,232.64 L307.57,231.41 L307.62,230.18 L307.68,228.95 L307.73,227.72 L307.79,226.49 L307.85,225.26 L307.91,224.03 L307.97,222.80 L308.03,221.57 L308.10,220.34 L308.16,219.11 L308.23,217.88 L308.30,216.65 L308.37,215.42 L308.44,214.19 L308.52,212.96 L308.59,211.73 L308.67,210.50 L308.76,209.27 L308.84,208.03 L308.93,206.80 L309.03,205.57 L309.13,204.34 L309.24,203.11 L309.36,201.88 L309.48,200.65 L309.62,199.42 L309.78,198.19 L309.97,196.96 L310.21,195.73 L310.80,194.50 L310.95,194.65 L311.11,195.08 L311.26,195.78 L311.42,196.73 L311.57,197.91 L311.72,199.31 L311.88,200.90 L312.03,202.67 L312.18,204.61 L312.34,206.69 L312.49,208.90 L312.65,211.21 L312.80,213.62 L312.95,216.11 L313.11,218.66 L313.26,221.24 L313.42,223.85 L313.57,226.46 L313.72,229.07 L313.88,231.64 L314.03,234.17 L314.18,236.63 L314.34,239.01 L314.49,241.30 L314.65,243.47 L314.80,245.50 L314.95,242.23 L315.11,238.89 L315.26,235.51 L315.42,232.11 L315.57,228.71 L315.73,225.36 L315.88,222.06 L316.04,218.85 L316.19,215.75 L316.35,212.79 L316.50,210.00 L316.65,207.46 L316.80,205.06 L316.95,202.79 L317.10,200.60 L317.25,198.47 L317.40,196.38 L317.55,194.30 L317.70,192.19 L317.85,190.04 L318.00,187.81 L318.15,185.47 L318.30,183.00 L318.46,180.22 L318.61,177.27 L318.77,174.20 L318.93,171.08 L319.09,167.96 L319.24,164.91 L319.40,162.00 L319.56,159.11 L319.72,156.22 L319.88,153.34 L320.04,150.49 L320.20,147.68 L320.36,144.94 L320.52,142.29 L320.68,139.73 L320.84,137.30 L321.00,135.00 L321.15,132.92 L321.31,130.96 L321.46,129.09 L321.62,127.30 L321.77,125.56 L321.93,123.85 L322.08,122.15 L322.24,120.44 L322.39,118.69 L322.55,116.88 L322.70,115.00 L322.85,113.04 L323.01,110.99 L323.16,108.86 L323.31,106.67 L323.46,104.44 L323.62,102.18 L323.77,99.91 L323.92,97.65 L324.08,95.40 L324.23,93.19 L324.38,91.03 L324.54,88.93 L324.69,86.92 L324.84,85.00 L324.99,83.20 L325.15,81.53 L325.30,80.00 L325.45,78.55 L325.61,77.13 L325.76,75.73 L325.91,74.36 L326.07,73.02 L326.22,71.73 L326.37,70.49 L326.53,69.30 L326.68,68.18 L326.83,67.12 L326.99,66.13 L327.14,65.21 L327.29,64.39 L327.45,63.65 L327.60,63.00 L327.76,62.38 L327.92,61.77 L328.08,61.17 L328.24,60.58 L328.39,60.00 L328.55,59.45 L328.71,58.92 L328.87,58.42 L329.03,57.96 L329.19,57.54 L329.35,57.15 L329.51,56.82 L329.66,56.54 L329.82,56.31 L329.98,56.14 L330.14,56.04 L330.30,56.00 L330.46,56.03 L330.61,56.11 L330.77,56.25 L330.92,56.44 L331.08,56.68 L331.23,56.96 L331.39,57.28 L331.54,57.65 L331.70,58.06 L331.86,58.50 L332.01,58.97 L332.17,59.47 L332.32,60.01 L332.48,60.56 L332.63,61.14 L332.79,61.75 L332.94,62.36 L333.10,63.00 L333.26,63.77 L333.43,64.74 L333.59,65.88 L333.75,67.18 L333.92,68.65 L334.08,70.25 L334.25,71.98 L334.41,73.84 L334.57,75.80 L334.74,77.86 L334.90,80.00 L335.06,82.26 L335.21,84.87 L335.37,87.79 L335.52,91.00 L335.68,94.45 L335.83,98.11 L335.99,101.94 L336.14,105.92 L336.30,110.00 L336.48,115.28 L336.66,121.30 L336.84,127.69 L337.02,134.06 L337.20,140.00 L337.36,144.95 L337.51,149.94 L337.67,154.87 L337.83,159.64 L337.99,164.16 L338.14,168.31 L338.30,172.00 L338.46,175.24 L338.61,178.21 L338.77,180.97 L338.92,183.56 L339.08,186.05 L339.23,188.48 L339.39,190.92 L339.54,193.40 L339.70,196.00 L339.85,194.13 L340.00,192.11 L340.16,189.99 L340.31,187.77 L340.46,185.47 L340.61,183.12 L340.77,180.73 L340.92,178.33 L341.07,175.94 L341.22,173.58 L341.37,171.26 L341.53,169.01 L341.68,166.85 L341.83,164.80 L341.98,162.88 L342.13,161.10 L342.29,159.50 L342.44,158.09 L342.59,156.89 L342.74,155.92 L342.90,155.20 L343.05,154.75 L343.20,154.60 L343.35,154.68 L343.50,154.92 L343.65,155.31 L343.80,155.86 L343.95,156.56 L344.10,157.42 L344.25,158.43 L344.40,159.59 L344.55,160.90 L344.70,162.36 L344.85,163.97 L345.00,165.73 L345.15,167.64 L345.30,169.69 L345.45,171.88 L345.60,174.22 L345.75,176.71 L345.90,179.33 L346.05,182.09 L346.20,185.00 L346.36,189.98 L346.52,197.95 L346.68,207.91 L346.84,218.92 L347.00,230.00 L347.15,241.09 L347.30,253.58 L347.45,266.63 L347.60,279.40 L347.77,293.40 L350.02,293.40 L350.20,279.40 L350.35,266.51 L350.50,252.94 L350.65,240.74 L350.80,232.00 L350.97,225.28 L351.14,219.49 L351.31,214.51 L351.49,210.21 L351.66,206.44 L351.83,203.08 L352.00,200.00 L352.16,197.27 L352.31,194.53 L352.47,191.81 L352.62,189.14 L352.78,186.54 L352.94,184.03 L353.09,181.64 L353.25,179.40 L353.41,177.33 L353.56,175.46 L353.72,173.80 L353.88,172.39 L354.03,171.25 L354.19,170.41 L354.34,169.88 L354.50,169.70 L354.65,169.75 L354.80,169.91 L354.95,170.16 L355.10,170.50 L355.26,170.94 L355.41,171.47 L355.56,172.08 L355.71,172.77 L355.86,173.54 L356.01,174.38 L356.16,175.29 L356.31,176.27 L356.46,177.31 L356.62,178.41 L356.77,179.57 L356.92,180.78 L357.07,182.04 L357.22,183.34 L357.37,184.69 L357.52,186.08 L357.67,187.50 L357.82,188.95 L357.98,190.43 L358.13,191.94 L358.28,193.46 L358.43,195.01 L358.58,196.56 L358.73,198.13 L358.88,199.71 L359.03,201.29 L359.18,202.86 L359.34,204.44 L359.49,206.01 L359.64,207.56 L359.79,209.11 L359.94,210.63 L360.09,212.14 L360.24,213.62 L360.39,215.07 L360.54,216.49 L360.70,217.88 L360.85,219.23 L361.00,220.53 L361.15,221.79 L361.30,223.00 L361.45,221.87 L361.60,220.69 L361.76,219.46 L361.91,218.19 L362.06,216.88 L362.21,215.54 L362.37,214.17 L362.52,212.78 L362.67,211.36 L362.82,209.92 L362.98,208.47 L363.13,207.00 L363.28,205.53 L363.43,204.06 L363.59,202.58 L363.74,201.11 L363.89,199.64 L364.04,198.19 L364.20,196.75 L364.35,195.33 L364.50,193.94 L364.65,192.57 L364.80,191.23 L364.96,189.92 L365.11,188.65 L365.26,187.43 L365.41,186.24 L365.57,185.11 L365.72,184.03 L365.87,183.01 L366.02,182.04 L366.18,181.14 L366.33,180.31 L366.48,179.55 L366.63,178.87 L366.79,178.26 L366.94,177.74 L367.09,177.30 L367.24,176.96 L367.40,176.71 L367.55,176.55 L367.70,176.50 L367.85,176.55 L368.01,176.71 L368.16,176.97 L368.32,177.32 L368.47,177.76 L368.62,178.28 L368.78,178.89 L368.93,179.57 L369.08,180.33 L369.24,181.16 L369.39,182.04 L369.55,182.99 L369.70,184.00 L369.85,185.05 L370.01,186.15 L370.16,187.29 L370.32,188.46 L370.47,189.67 L370.62,190.91 L370.78,192.18 L370.93,193.46 L371.08,194.75 L371.24,196.06 L371.39,197.37 L371.55,198.69 L371.70,200.00 L371.86,201.44 L372.02,203.04 L372.18,204.80 L372.33,206.69 L372.49,208.71 L372.65,210.83 L372.81,213.05 L372.97,215.34 L373.12,217.70 L373.28,220.10 L373.44,222.54 L373.60,225.00 L373.76,227.51 L373.92,230.08 L374.08,232.73 L374.24,235.48 L374.40,238.34 L374.56,241.33 L374.72,244.48 L374.88,247.79 L375.04,251.29 L375.20,255.00 L375.36,259.20 L375.52,263.99 L375.68,269.13 L375.84,274.35 L376.00,279.40 L376.46,293.40 L381.61,293.40 L382.00,279.40 L382.15,273.52 L382.30,267.27 L382.45,261.75 L382.60,258.00 L382.76,255.50 L382.92,253.25 L383.08,251.24 L383.23,249.43 L383.39,247.82 L383.55,246.37 L383.71,245.07 L383.87,243.89 L384.02,242.82 L384.18,241.82 L384.34,240.89 L384.50,240.00 L384.66,239.15 L384.81,238.33 L384.97,237.54 L385.12,236.79 L385.28,236.06 L385.43,235.37 L385.59,234.70 L385.74,234.07 L385.90,233.47 L386.06,232.89 L386.21,232.35 L386.37,231.84 L386.52,231.36 L386.68,230.91 L386.83,230.49 L386.99,230.09 L387.14,229.73 L387.30,229.40 L387.45,229.09 L387.60,228.78 L387.75,228.48 L387.91,228.18 L388.06,227.88 L388.21,227.59 L388.36,227.30 L388.51,227.01 L388.66,226.73 L388.82,226.46 L388.97,226.20 L389.12,225.94 L389.27,225.69 L389.42,225.45 L389.57,225.21 L389.73,224.99 L389.88,224.78 L390.03,224.58 L390.18,224.39 L390.33,224.21 L390.48,224.04 L390.64,223.89 L390.79,223.75 L390.94,223.63 L391.09,223.52 L391.24,223.42 L391.39,223.34 L391.55,223.28 L391.70,223.24 L391.85,223.21 L392.00,223.20 L392.15,223.20 L392.30,223.21 L392.45,223.22 L392.60,223.23 L392.75,223.24 L392.90,223.26 L393.05,223.28 L393.20,223.31 L393.35,223.33 L393.50,223.36 L393.65,223.38 L393.80,223.41 L393.95,223.44 L394.10,223.47 L394.25,223.50 L394.40,223.53 L394.55,223.56 L394.70,223.59 L394.85,223.62 L395.00,223.64 L395.15,223.67 L395.30,223.69 L395.45,223.72 L395.60,223.74 L395.75,223.76 L395.90,223.77 L396.05,223.78 L396.20,223.79 L396.35,223.80 L396.50,223.80 L396.65,223.80 L396.80,223.78 L396.95,223.76 L397.10,223.73 L397.25,223.69 L397.40,223.65 L397.55,223.59 L397.70,223.53 L397.85,223.47 L398.00,223.39 L398.15,223.31 L398.30,223.23 L398.45,223.14 L398.60,223.04 L398.75,222.94 L398.90,222.83 L399.05,222.72 L399.20,222.60 L399.35,222.48 L399.50,222.35 L399.65,222.22 L399.80,222.09 L399.95,221.95 L400.10,221.81 L400.25,221.67 L400.40,221.53 L400.55,221.38 L400.70,221.23 L400.85,221.08 L401.00,220.93 L401.15,220.78 L401.30,220.62 L401.45,220.47 L401.60,220.32 L401.75,220.16 L401.90,220.01 L402.05,219.85 L402.20,219.70 L402.35,219.54 L402.50,219.39 L402.65,219.24 L402.80,219.09 L402.95,218.95 L403.10,218.80 L403.25,218.66 L403.40,218.52 L403.55,218.39 L403.70,218.25 L403.85,218.13 L404.00,218.00 L404.15,217.87 L404.30,217.74 L404.46,217.60 L404.61,217.46 L404.76,217.31 L404.91,217.16 L405.06,217.01 L405.21,216.85 L405.37,216.69 L405.52,216.52 L405.67,216.36 L405.82,216.19 L405.97,216.02 L406.12,215.84 L406.28,215.67 L406.43,215.49 L406.58,215.32 L406.73,215.14 L406.88,214.96 L407.04,214.78 L407.19,214.60 L407.34,214.42 L407.49,214.25 L407.64,214.07 L407.79,213.89 L407.95,213.72 L408.10,213.55 L408.25,213.38 L408.40,213.21 L408.55,213.04 L408.71,212.88 L408.86,212.72 L409.01,212.56 L409.16,212.41 L409.31,212.26 L409.46,212.11 L409.62,211.97 L409.77,211.84 L409.92,211.70 L410.07,211.58 L410.22,211.46 L410.38,211.34 L410.53,211.24 L410.68,211.13 L410.83,211.04 L410.98,210.95 L411.13,210.87 L411.29,210.79 L411.44,210.73 L411.59,210.67 L411.74,210.62 L411.89,210.58 L412.04,210.54 L412.20,210.52 L412.35,210.50 L412.50,210.50 L412.65,210.51 L412.80,210.52 L412.95,210.55 L413.10,210.58 L413.25,210.63 L413.40,210.68 L413.55,210.74 L413.70,210.82 L413.85,210.90 L414.00,210.99 L414.15,211.09 L414.30,211.20 L414.45,211.32 L414.60,211.45 L414.75,211.59 L414.90,211.73 L415.05,211.89 L415.20,212.05 L415.35,212.22 L415.50,212.40 L415.65,212.58 L415.80,212.78 L415.95,212.98 L416.10,213.19 L416.25,213.41 L416.40,213.63 L416.55,213.86 L416.70,214.10 L416.85,214.35 L417.00,214.60 L417.15,214.86 L417.30,215.13 L417.45,215.40 L417.60,215.68 L417.75,215.97 L417.90,216.27 L418.05,216.56 L418.20,216.87 L418.35,217.18 L418.50,217.50 L418.66,217.88 L418.81,218.36 L418.97,218.92 L419.12,219.57 L419.28,220.29 L419.44,221.09 L419.59,221.96 L419.75,222.89 L419.91,223.87 L420.06,224.91 L420.22,226.00 L420.38,227.14 L420.53,228.31 L420.69,229.51 L420.84,230.74 L421.00,232.00 L421.15,233.30 L421.30,234.76 L421.45,236.36 L421.60,238.10 L421.75,239.97 L421.90,241.95 L422.05,244.03 L422.20,246.19 L422.35,248.44 L422.50,250.75 L422.65,253.12 L422.80,255.53 L422.95,257.97 L423.10,260.43 L423.25,262.89 L423.40,265.36 L423.55,267.80 L423.70,270.22 L423.85,272.60 L424.00,274.94 L424.15,277.20 L424.30,279.40 L425.27,293.40 L429.72,293.40 L430.60,279.40 L430.63,278.95 L430.66,278.50 L430.69,278.06 L430.71,277.61 L430.74,277.16 L430.77,276.71 L430.80,276.27 L430.83,275.82 L430.86,275.37 L430.89,274.92 L430.92,274.47 L430.96,274.03 L430.99,273.58 L431.02,273.13 L431.05,272.68 L431.08,272.23 L431.11,271.79 L431.15,271.34 L431.18,270.89 L431.21,270.44 L431.25,270.00 L431.28,269.55 L431.32,269.10 L431.35,268.65 L431.39,268.20 L431.42,267.76 L431.46,267.31 L431.49,266.86 L431.53,266.41 L431.57,265.97 L431.61,265.52 L431.64,265.07 L431.68,264.62 L431.72,264.17 L431.76,263.73 L431.80,263.28 L431.84,262.83 L431.89,262.38 L431.93,261.93 L431.97,261.49 L432.02,261.04 L432.06,260.59 L432.11,260.14 L432.15,259.70 L432.20,259.25 L432.25,258.80 L432.30,258.35 L432.35,257.90 L432.40,257.46 L432.45,257.01 L432.51,256.56 L432.56,256.11 L432.62,255.67 L432.68,255.22 L432.74,254.77 L432.81,254.32 L432.87,253.87 L432.94,253.43 L433.02,252.98 L433.09,252.53 L433.17,252.08 L433.26,251.63 L433.35,251.19 L433.45,250.74 L433.56,250.29 L433.69,249.84 L433.84,249.40 L434.03,248.95 L434.50,248.50 L434.84,248.95 L434.98,249.40 L435.08,249.84 L435.17,250.29 L435.25,250.74 L435.33,251.19 L435.39,251.63 L435.45,252.08 L435.51,252.53 L435.57,252.98 L435.62,253.43 L435.67,253.87 L435.72,254.32 L435.76,254.77 L435.81,255.22 L435.85,255.67 L435.89,256.11 L435.93,256.56 L435.97,257.01 L436.01,257.46 L436.04,257.90 L436.08,258.35 L436.12,258.80 L436.15,259.25 L436.19,259.70 L436.22,260.14 L436.25,260.59 L436.28,261.04 L436.32,261.49 L436.35,261.93 L436.38,262.38 L436.41,262.83 L436.44,263.28 L436.47,263.73 L436.49,264.17 L436.52,264.62 L436.55,265.07 L436.58,265.52 L436.61,265.97 L436.63,266.41 L436.66,266.86 L436.68,267.31 L436.71,267.76 L436.74,268.20 L436.76,268.65 L436.79,269.10 L436.81,269.55 L436.84,270.00 L436.86,270.44 L436.88,270.89 L436.91,271.34 L436.93,271.79 L436.95,272.23 L436.98,272.68 L437.00,273.13 L437.02,273.58 L437.04,274.03 L437.07,274.47 L437.09,274.92 L437.11,275.37 L437.13,275.82 L437.15,276.27 L437.18,276.71 L437.20,277.16 L437.22,277.61 L437.24,278.06 L437.26,278.50 L437.28,278.95 L437.30,279.40 L437.93,293.40 L443.50,293.40 L444.00,279.40 L444.02,278.95 L444.03,278.50 L444.05,278.06 L444.06,277.61 L444.08,277.16 L444.10,276.71 L444.11,276.27 L444.13,275.82 L444.15,275.37 L444.17,274.92 L444.18,274.47 L444.20,274.03 L444.22,273.58 L444.24,273.13 L444.25,272.68 L444.27,272.23 L444.29,271.79 L444.31,271.34 L444.33,270.89 L444.35,270.44 L444.37,270.00 L444.38,269.55 L444.40,269.10 L444.42,268.65 L444.44,268.20 L444.46,267.76 L444.48,267.31 L444.50,266.86 L444.52,266.41 L444.55,265.97 L444.57,265.52 L444.59,265.07 L444.61,264.62 L444.63,264.17 L444.66,263.73 L444.68,263.28 L444.70,262.83 L444.73,262.38 L444.75,261.93 L444.77,261.49 L444.80,261.04 L444.82,260.59 L444.85,260.14 L444.88,259.70 L444.90,259.25 L444.93,258.80 L444.96,258.35 L444.99,257.90 L445.02,257.46 L445.05,257.01 L445.08,256.56 L445.11,256.11 L445.14,255.67 L445.17,255.22 L445.21,254.77 L445.25,254.32 L445.28,253.87 L445.32,253.43 L445.36,252.98 L445.41,252.53 L445.45,252.08 L445.50,251.63 L445.55,251.19 L445.61,250.74 L445.67,250.29 L445.74,249.84 L445.83,249.40 L445.94,248.95 L446.20,248.50 L446.67,248.95 L446.86,249.40 L447.01,249.84 L447.14,250.29 L447.25,250.74 L447.35,251.19 L447.44,251.63 L447.53,252.08 L447.61,252.53 L447.68,252.98 L447.76,253.43 L447.83,253.87 L447.89,254.32 L447.96,254.77 L448.02,255.22 L448.08,255.67 L448.14,256.11 L448.19,256.56 L448.25,257.01 L448.30,257.46 L448.35,257.90 L448.40,258.35 L448.45,258.80 L448.50,259.25 L448.55,259.70 L448.59,260.14 L448.64,260.59 L448.68,261.04 L448.73,261.49 L448.77,261.93 L448.81,262.38 L448.86,262.83 L448.90,263.28 L448.94,263.73 L448.98,264.17 L449.02,264.62 L449.06,265.07 L449.09,265.52 L449.13,265.97 L449.17,266.41 L449.21,266.86 L449.24,267.31 L449.28,267.76 L449.31,268.20 L449.35,268.65 L449.38,269.10 L449.42,269.55 L449.45,270.00 L449.49,270.44 L449.52,270.89 L449.55,271.34 L449.59,271.79 L449.62,272.23 L449.65,272.68 L449.68,273.13 L449.71,273.58 L449.74,274.03 L449.78,274.47 L449.81,274.92 L449.84,275.37 L449.87,275.82 L449.90,276.27 L449.93,276.71 L449.96,277.16 L449.99,277.61 L450.01,278.06 L450.04,278.50 L450.07,278.95 L450.10,279.40 L450.98,293.40 L453.65,293.40 L454.00,279.40 L454.01,278.97 L454.02,278.54 L454.03,278.11 L454.04,277.68 L454.06,277.25 L454.07,276.82 L454.08,276.39 L454.09,275.96 L454.10,275.53 L454.11,275.10 L454.12,274.67 L454.14,274.23 L454.15,273.80 L454.16,273.37 L454.17,272.94 L454.19,272.51 L454.20,272.08 L454.21,271.65 L454.22,271.22 L454.24,270.79 L454.25,270.36 L454.26,269.93 L454.28,269.50 L454.29,269.07 L454.30,268.64 L454.32,268.21 L454.33,267.78 L454.34,267.35 L454.36,266.92 L454.37,266.49 L454.39,266.06 L454.40,265.63 L454.42,265.20 L454.43,264.77 L454.45,264.33 L454.46,263.90 L454.48,263.47 L454.49,263.04 L454.51,262.61 L454.53,262.18 L454.54,261.75 L454.56,261.32 L454.58,260.89 L454.60,260.46 L454.62,260.03 L454.63,259.60 L454.65,259.17 L454.67,258.74 L454.69,258.31 L454.71,257.88 L454.73,257.45 L454.76,257.02 L454.78,256.59 L454.80,256.16 L454.82,255.73 L454.85,255.30 L454.87,254.87 L454.90,254.43 L454.93,254.00 L454.96,253.57 L454.99,253.14 L455.02,252.71 L455.06,252.28 L455.10,251.85 L455.14,251.42 L455.19,250.99 L455.24,250.56 L455.32,250.13 L455.50,249.70 L455.68,250.13 L455.76,250.56 L455.81,250.99 L455.86,251.42 L455.90,251.85 L455.94,252.28 L455.98,252.71 L456.01,253.14 L456.04,253.57 L456.07,254.00 L456.10,254.43 L456.13,254.87 L456.15,255.30 L456.18,255.73 L456.20,256.16 L456.22,256.59 L456.24,257.02 L456.27,257.45 L456.29,257.88 L456.31,258.31 L456.33,258.74 L456.35,259.17 L456.37,259.60 L456.38,260.03 L456.40,260.46 L456.42,260.89 L456.44,261.32 L456.46,261.75 L456.47,262.18 L456.49,262.61 L456.51,263.04 L456.52,263.47 L456.54,263.90 L456.55,264.33 L456.57,264.77 L456.58,265.20 L456.60,265.63 L456.61,266.06 L456.63,266.49 L456.64,266.92 L456.66,267.35 L456.67,267.78 L456.68,268.21 L456.70,268.64 L456.71,269.07 L456.72,269.50 L456.74,269.93 L456.75,270.36 L456.76,270.79 L456.78,271.22 L456.79,271.65 L456.80,272.08 L456.81,272.51 L456.83,272.94 L456.84,273.37 L456.85,273.80 L456.86,274.23 L456.88,274.67 L456.89,275.10 L456.90,275.53 L456.91,275.96 L456.92,276.39 L456.93,276.82 L456.94,277.25 L456.96,277.68 L456.97,278.11 L456.98,278.54 L456.99,278.97 L457.00,279.40 L457.35,293.40 L472.03,293.40 L472.30,279.40 L472.31,279.14 L472.31,278.88 L472.32,278.62 L472.32,278.36 L472.33,278.10 L472.33,277.84 L472.34,277.58 L472.34,277.32 L472.35,277.07 L472.35,276.81 L472.36,276.55 L472.36,276.29 L472.37,276.03 L472.38,275.77 L472.38,275.51 L472.39,275.25 L472.39,274.99 L472.40,274.73 L472.40,274.47 L472.41,274.21 L472.42,273.95 L472.42,273.69 L472.43,273.43 L472.43,273.17 L472.44,272.91 L472.45,272.66 L472.45,272.40 L472.46,272.14 L472.47,271.88 L472.47,271.62 L472.48,271.36 L472.49,271.10 L472.49,270.84 L472.50,270.58 L472.51,270.32 L472.52,270.06 L472.52,269.80 L472.53,269.54 L472.54,269.28 L472.55,269.02 L472.55,268.76 L472.56,268.50 L472.57,268.24 L472.58,267.99 L472.59,267.73 L472.60,267.47 L472.60,267.21 L472.61,266.95 L472.62,266.69 L472.63,266.43 L472.64,266.17 L472.65,265.91 L472.66,265.65 L472.67,265.39 L472.68,265.13 L472.70,264.87 L472.71,264.61 L472.72,264.35 L472.73,264.09 L472.75,263.83 L472.76,263.58 L472.78,263.32 L472.79,263.06 L472.81,262.80 L472.83,262.54 L472.85,262.28 L472.88,262.02 L472.92,261.76 L473.00,261.50 L473.08,261.76 L473.12,262.02 L473.15,262.28 L473.17,262.54 L473.19,262.80 L473.21,263.06 L473.22,263.32 L473.24,263.58 L473.25,263.83 L473.27,264.09 L473.28,264.35 L473.29,264.61 L473.30,264.87 L473.32,265.13 L473.33,265.39 L473.34,265.65 L473.35,265.91 L473.36,266.17 L473.37,266.43 L473.38,266.69 L473.39,266.95 L473.40,267.21 L473.40,267.47 L473.41,267.73 L473.42,267.99 L473.43,268.24 L473.44,268.50 L473.45,268.76 L473.45,269.02 L473.46,269.28 L473.47,269.54 L473.48,269.80 L473.48,270.06 L473.49,270.32 L473.50,270.58 L473.51,270.84 L473.51,271.10 L473.52,271.36 L473.53,271.62 L473.53,271.88 L473.54,272.14 L473.55,272.40 L473.55,272.66 L473.56,272.91 L473.57,273.17 L473.57,273.43 L473.58,273.69 L473.58,273.95 L473.59,274.21 L473.60,274.47 L473.60,274.73 L473.61,274.99 L473.61,275.25 L473.62,275.51 L473.62,275.77 L473.63,276.03 L473.64,276.29 L473.64,276.55 L473.65,276.81 L473.65,277.07 L473.66,277.32 L473.66,277.58 L473.67,277.84 L473.67,278.10 L473.68,278.36 L473.68,278.62 L473.69,278.88 L473.69,279.14 L473.70,279.40 L473.97,293.40 L479.25,293.40 L480.20,279.40 L480.20,279.34 L480.21,279.27 L480.21,279.21 L480.22,279.14 L480.22,279.08 L480.23,279.02 L480.23,278.95 L480.24,278.89 L480.24,278.83 L480.25,278.76 L480.25,278.70 L480.25,278.63 L480.26,278.57 L480.26,278.51 L480.27,278.44 L480.27,278.38 L480.28,278.32 L480.28,278.25 L480.29,278.19 L480.29,278.12 L480.30,278.06 L480.30,278.00 L480.31,277.93 L480.32,277.87 L480.32,277.81 L480.33,277.74 L480.33,277.68 L480.34,277.61 L480.34,277.55 L480.35,277.49 L480.35,277.42 L480.36,277.36 L480.37,277.30 L480.37,277.23 L480.38,277.17 L480.39,277.10 L480.39,277.04 L480.40,276.98 L480.40,276.91 L480.41,276.85 L480.42,276.79 L480.42,276.72 L480.43,276.66 L480.44,276.59 L480.45,276.53 L480.45,276.47 L480.46,276.40 L480.47,276.34 L480.48,276.28 L480.49,276.21 L480.49,276.15 L480.50,276.08 L480.51,276.02 L480.52,275.96 L480.53,275.89 L480.54,275.83 L480.55,275.77 L480.56,275.70 L480.57,275.64 L480.58,275.57 L480.60,275.51 L480.61,275.45 L480.62,275.38 L480.64,275.32 L480.66,275.26 L480.67,275.19 L480.70,275.13 L480.73,275.06 L480.80,275.00 L480.87,275.06 L480.90,275.13 L480.93,275.19 L480.94,275.26 L480.96,275.32 L480.98,275.38 L480.99,275.45 L481.00,275.51 L481.02,275.57 L481.03,275.64 L481.04,275.70 L481.05,275.77 L481.06,275.83 L481.07,275.89 L481.08,275.96 L481.09,276.02 L481.10,276.08 L481.11,276.15 L481.11,276.21 L481.12,276.28 L481.13,276.34 L481.14,276.40 L481.15,276.47 L481.15,276.53 L481.16,276.59 L481.17,276.66 L481.18,276.72 L481.18,276.79 L481.19,276.85 L481.20,276.91 L481.20,276.98 L481.21,277.04 L481.21,277.10 L481.22,277.17 L481.23,277.23 L481.23,277.30 L481.24,277.36 L481.25,277.42 L481.25,277.49 L481.26,277.55 L481.26,277.61 L481.27,277.68 L481.27,277.74 L481.28,277.81 L481.28,277.87 L481.29,277.93 L481.30,278.00 L481.30,278.06 L481.31,278.12 L481.31,278.19 L481.32,278.25 L481.32,278.32 L481.33,278.38 L481.33,278.44 L481.34,278.51 L481.34,278.57 L481.35,278.63 L481.35,278.70 L481.35,278.76 L481.36,278.83 L481.36,278.89 L481.37,278.95 L481.37,279.02 L481.38,279.08 L481.38,279.14 L481.39,279.21 L481.39,279.27 L481.40,279.34 L481.40,279.40 L482.35,293.40 L487.27,293.40 L487.60,279.40 L487.60,279.21 L487.61,279.03 L487.61,278.84 L487.62,278.65 L487.62,278.47 L487.63,278.28 L487.63,278.09 L487.64,277.90 L487.64,277.72 L487.65,277.53 L487.65,277.34 L487.65,277.16 L487.66,276.97 L487.66,276.78 L487.67,276.60 L487.67,276.41 L487.68,276.22 L487.68,276.03 L487.69,275.85 L487.69,275.66 L487.70,275.47 L487.70,275.29 L487.71,275.10 L487.72,274.91 L487.72,274.73 L487.73,274.54 L487.73,274.35 L487.74,274.17 L487.74,273.98 L487.75,273.79 L487.75,273.60 L487.76,273.42 L487.77,273.23 L487.77,273.04 L487.78,272.86 L487.79,272.67 L487.79,272.48 L487.80,272.30 L487.80,272.11 L487.81,271.92 L487.82,271.73 L487.82,271.55 L487.83,271.36 L487.84,271.17 L487.85,270.99 L487.85,270.80 L487.86,270.61 L487.87,270.43 L487.88,270.24 L487.89,270.05 L487.89,269.87 L487.90,269.68 L487.91,269.49 L487.92,269.30 L487.93,269.12 L487.94,268.93 L487.95,268.74 L487.96,268.56 L487.97,268.37 L487.98,268.18 L488.00,268.00 L488.01,267.81 L488.02,267.62 L488.04,267.43 L488.06,267.25 L488.07,267.06 L488.10,266.87 L488.13,266.69 L488.20,266.50 L488.27,266.69 L488.30,266.87 L488.33,267.06 L488.34,267.25 L488.36,267.43 L488.38,267.62 L488.39,267.81 L488.40,268.00 L488.42,268.18 L488.43,268.37 L488.44,268.56 L488.45,268.74 L488.46,268.93 L488.47,269.12 L488.48,269.30 L488.49,269.49 L488.50,269.68 L488.51,269.87 L488.51,270.05 L488.52,270.24 L488.53,270.43 L488.54,270.61 L488.55,270.80 L488.55,270.99 L488.56,271.17 L488.57,271.36 L488.58,271.55 L488.58,271.73 L488.59,271.92 L488.60,272.11 L488.60,272.30 L488.61,272.48 L488.61,272.67 L488.62,272.86 L488.63,273.04 L488.63,273.23 L488.64,273.42 L488.65,273.60 L488.65,273.79 L488.66,273.98 L488.66,274.17 L488.67,274.35 L488.67,274.54 L488.68,274.73 L488.68,274.91 L488.69,275.10 L488.70,275.29 L488.70,275.47 L488.71,275.66 L488.71,275.85 L488.72,276.03 L488.72,276.22 L488.73,276.41 L488.73,276.60 L488.74,276.78 L488.74,276.97 L488.75,277.16 L488.75,277.34 L488.75,277.53 L488.76,277.72 L488.76,277.90 L488.77,278.09 L488.77,278.28 L488.78,278.47 L488.78,278.65 L488.79,278.84 L488.79,279.03 L488.80,279.21 L488.80,279.40 L489.13,293.40 L494.39,293.40 L494.70,279.40 L494.70,279.21 L494.71,279.01 L494.71,278.82 L494.72,278.62 L494.72,278.43 L494.73,278.23 L494.73,278.04 L494.74,277.85 L494.74,277.65 L494.75,277.46 L494.75,277.26 L494.75,277.07 L494.76,276.88 L494.76,276.68 L494.77,276.49 L494.77,276.29 L494.78,276.10 L494.78,275.90 L494.79,275.71 L494.79,275.52 L494.80,275.32 L494.80,275.13 L494.81,274.93 L494.82,274.74 L494.82,274.54 L494.83,274.35 L494.83,274.16 L494.84,273.96 L494.84,273.77 L494.85,273.57 L494.85,273.38 L494.86,273.19 L494.87,272.99 L494.87,272.80 L494.88,272.60 L494.89,272.41 L494.89,272.21 L494.90,272.02 L494.90,271.83 L494.91,271.63 L494.92,271.44 L494.92,271.24 L494.93,271.05 L494.94,270.86 L494.95,270.66 L494.95,270.47 L494.96,270.27 L494.97,270.08 L494.98,269.88 L494.99,269.69 L494.99,269.50 L495.00,269.30 L495.01,269.11 L495.02,268.91 L495.03,268.72 L495.04,268.52 L495.05,268.33 L495.06,268.14 L495.07,267.94 L495.08,267.75 L495.10,267.55 L495.11,267.36 L495.12,267.17 L495.14,266.97 L495.16,266.78 L495.17,266.58 L495.20,266.39 L495.23,266.19 L495.30,266.00 L495.37,266.19 L495.40,266.39 L495.43,266.58 L495.44,266.78 L495.46,266.97 L495.48,267.17 L495.49,267.36 L495.50,267.55 L495.52,267.75 L495.53,267.94 L495.54,268.14 L495.55,268.33 L495.56,268.52 L495.57,268.72 L495.58,268.91 L495.59,269.11 L495.60,269.30 L495.61,269.50 L495.61,269.69 L495.62,269.88 L495.63,270.08 L495.64,270.27 L495.65,270.47 L495.65,270.66 L495.66,270.86 L495.67,271.05 L495.68,271.24 L495.68,271.44 L495.69,271.63 L495.70,271.83 L495.70,272.02 L495.71,272.21 L495.71,272.41 L495.72,272.60 L495.73,272.80 L495.73,272.99 L495.74,273.19 L495.75,273.38 L495.75,273.57 L495.76,273.77 L495.76,273.96 L495.77,274.16 L495.77,274.35 L495.78,274.54 L495.78,274.74 L495.79,274.93 L495.80,275.13 L495.80,275.32 L495.81,275.52 L495.81,275.71 L495.82,275.90 L495.82,276.10 L495.83,276.29 L495.83,276.49 L495.84,276.68 L495.84,276.88 L495.85,277.07 L495.85,277.26 L495.85,277.46 L495.86,277.65 L495.86,277.85 L495.87,278.04 L495.87,278.23 L495.88,278.43 L495.88,278.62 L495.89,278.82 L495.89,279.01 L495.90,279.21 L495.90,279.40 L496.21,293.40 L500.41,293.40 L500.80,279.40 L500.81,278.91 L500.83,278.42 L500.84,277.93 L500.86,277.43 L500.87,276.94 L500.88,276.45 L500.90,275.96 L500.91,275.47 L500.93,274.98 L500.94,274.49 L500.96,274.00 L500.97,273.50 L500.99,273.01 L501.00,272.52 L501.02,272.03 L501.03,271.54 L501.05,271.05 L501.07,270.56 L501.08,270.07 L501.10,269.57 L501.12,269.08 L501.13,268.59 L501.15,268.10 L501.17,267.61 L501.18,267.12 L501.20,266.63 L501.22,266.13 L501.24,265.64 L501.25,265.15 L501.27,264.66 L501.29,264.17 L501.31,263.68 L501.33,263.19 L501.35,262.70 L501.37,262.20 L501.39,261.71 L501.41,261.22 L501.43,260.73 L501.45,260.24 L501.47,259.75 L501.49,259.26 L501.51,258.77 L501.53,258.27 L501.56,257.78 L501.58,257.29 L501.60,256.80 L501.63,256.31 L501.65,255.82 L501.68,255.33 L501.70,254.83 L501.73,254.34 L501.76,253.85 L501.79,253.36 L501.81,252.87 L501.84,252.38 L501.88,251.89 L501.91,251.40 L501.94,250.90 L501.98,250.41 L502.01,249.92 L502.05,249.43 L502.09,248.94 L502.14,248.45 L502.19,247.96 L502.24,247.47 L502.30,246.97 L502.38,246.48 L502.47,245.99 L502.70,245.50 L502.98,245.99 L503.09,246.48 L503.18,246.97 L503.25,247.47 L503.32,247.96 L503.38,248.45 L503.43,248.94 L503.48,249.43 L503.53,249.92 L503.58,250.41 L503.62,250.90 L503.66,251.40 L503.70,251.89 L503.74,252.38 L503.77,252.87 L503.81,253.36 L503.84,253.85 L503.87,254.34 L503.91,254.83 L503.94,255.33 L503.97,255.82 L504.00,256.31 L504.03,256.80 L504.06,257.29 L504.08,257.78 L504.11,258.27 L504.14,258.77 L504.17,259.26 L504.19,259.75 L504.22,260.24 L504.24,260.73 L504.27,261.22 L504.29,261.71 L504.31,262.20 L504.34,262.70 L504.36,263.19 L504.38,263.68 L504.41,264.17 L504.43,264.66 L504.45,265.15 L504.47,265.64 L504.49,266.13 L504.52,266.63 L504.54,267.12 L504.56,267.61 L504.58,268.10 L504.60,268.59 L504.62,269.08 L504.64,269.57 L504.66,270.07 L504.68,270.56 L504.70,271.05 L504.72,271.54 L504.73,272.03 L504.75,272.52 L504.77,273.01 L504.79,273.50 L504.81,274.00 L504.83,274.49 L504.84,274.98 L504.86,275.47 L504.88,275.96 L504.90,276.45 L504.92,276.94 L504.93,277.43 L504.95,277.93 L504.97,278.42 L504.98,278.91 L505.00,279.40 L505.47,293.40" stroke="#ff0000"/>
<path d="M81.89,293.40 L82.40,279.40 L82.41,279.02 L82.43,278.65 L82.44,278.27 L82.46,277.90 L82.47,277.52 L82.48,277.15 L82.50,276.77 L82.51,276.40 L82.53,276.02 L82.54,275.65 L82.56,275.27 L82.57,274.90 L82.59,274.52 L82.60,274.14 L82.62,273.77 L82.63,273.39 L82.65,273.02 L82.67,272.64 L82.68,272.27 L82.70,271.89 L82.72,271.52 L82.73,271.14 L82.75,270.77 L82.77,270.39 L82.78,270.02 L82.80,269.64 L82.82,269.27 L82.84,268.89 L82.85,268.51 L82.87,268.14 L82.89,267.76 L82.91,267.39 L82.93,267.01 L82.95,266.64 L82.97,266.26 L82.99,265.89 L83.01,265.51 L83.03,265.14 L83.05,264.76 L83.07,264.39 L83.09,264.01 L83.11,263.63 L83.13,263.26 L83.16,262.88 L83.18,262.51 L83.20,262.13 L83.23,261.76 L83.25,261.38 L83.28,261.01 L83.30,260.63 L83.33,260.26 L83.36,259.88 L83.39,259.51 L83.41,259.13 L83.44,258.76 L83.48,258.38 L83.51,258.00 L83.54,257.63 L83.58,257.25 L83.61,256.88 L83.65,256.50 L83.69,256.13 L83.74,255.75 L83.79,255.38 L83.84,255.00 L83.90,254.63 L83.98,254.25 L84.07,253.88 L84.30,253.50 L84.47,253.88 L84.54,254.25 L84.59,254.63 L84.64,255.00 L84.68,255.38 L84.71,255.75 L84.75,256.13 L84.78,256.50 L84.81,256.88 L84.83,257.25 L84.86,257.63 L84.88,258.00 L84.91,258.38 L84.93,258.76 L84.95,259.13 L84.97,259.51 L84.99,259.88 L85.02,260.26 L85.03,260.63 L85.05,261.01 L85.07,261.38 L85.09,261.76 L85.11,262.13 L85.13,262.51 L85.14,262.88 L85.16,263.26 L85.18,263.63 L85.19,264.01 L85.21,264.39 L85.22,264.76 L85.24,265.14 L85.25,265.51 L85.27,265.89 L85.28,266.26 L85.30,266.64 L85.31,267.01 L85.33,267.39 L85.34,267.76 L85.35,268.14 L85.37,268.51 L85.38,268.89 L85.39,269.27 L85.41,269.64 L85.42,270.02 L85.43,270.39 L85.44,270.77 L85.46,271.14 L85.47,271.52 L85.48,271.89 L85.49,272.27 L85.50,272.64 L85.52,273.02 L85.53,273.39 L85.54,273.77 L85.55,274.14 L85.56,274.52 L85.57,274.90 L85.58,275.27 L85.59,275.65 L85.61,276.02 L85.62,276.40 L85.63,276.77 L85.64,277.15 L85.65,277.52 L85.66,277.90 L85.67,278.27 L85.68,278.65 L85.69,279.02 L85.70,279.40 L86.08,293.40 L90.00,293.40 L90.30,279.40 L90.31,278.96 L90.32,278.52 L90.33,278.08 L90.34,277.64 L90.35,277.20 L90.36,276.77 L90.37,276.33 L90.38,275.89 L90.39,275.45 L90.40,275.01 L90.41,274.57 L90.42,274.13 L90.43,273.69 L90.44,273.25 L90.45,272.81 L90.46,272.37 L90.47,271.93 L90.48,271.50 L90.49,271.06 L90.50,270.62 L90.52,270.18 L90.53,269.74 L90.54,269.30 L90.55,268.86 L90.56,268.42 L90.57,267.98 L90.59,267.54 L90.60,267.10 L90.61,266.67 L90.62,266.23 L90.64,265.79 L90.65,265.35 L90.66,264.91 L90.67,264.47 L90.69,264.03 L90.70,263.59 L90.71,263.15 L90.73,262.71 L90.74,262.27 L90.76,261.83 L90.77,261.40 L90.79,260.96 L90.80,260.52 L90.82,260.08 L90.83,259.64 L90.85,259.20 L90.87,258.76 L90.88,258.32 L90.90,257.88 L90.92,257.44 L90.94,257.00 L90.95,256.57 L90.97,256.13 L90.99,255.69 L91.01,255.25 L91.04,254.81 L91.06,254.37 L91.08,253.93 L91.11,253.49 L91.13,253.05 L91.16,252.61 L91.19,252.17 L91.22,251.73 L91.25,251.30 L91.29,250.86 L91.33,250.42 L91.38,249.98 L91.44,249.54 L91.60,249.10 L91.77,249.54 L91.84,249.98 L91.89,250.42 L91.94,250.86 L91.98,251.30 L92.01,251.73 L92.05,252.17 L92.08,252.61 L92.11,253.05 L92.13,253.49 L92.16,253.93 L92.18,254.37 L92.21,254.81 L92.23,255.25 L92.25,255.69 L92.27,256.13 L92.29,256.57 L92.32,257.00 L92.33,257.44 L92.35,257.88 L92.37,258.32 L92.39,258.76 L92.41,259.20 L92.43,259.64 L92.44,260.08 L92.46,260.52 L92.48,260.96 L92.49,261.40 L92.51,261.83 L92.52,262.27 L92.54,262.71 L92.55,263.15 L92.57,263.59 L92.58,264.03 L92.60,264.47 L92.61,264.91 L92.63,265.35 L92.64,265.79 L92.65,266.23 L92.67,266.67 L92.68,267.10 L92.69,267.54 L92.71,267.98 L92.72,268.42 L92.73,268.86 L92.74,269.30 L92.76,269.74 L92.77,270.18 L92.78,270.62 L92.79,271.06 L92.80,271.50 L92.82,271.93 L92.83,272.37 L92.84,272.81 L92.85,273.25 L92.86,273.69 L92.87,274.13 L92.88,274.57 L92.89,275.01 L92.91,275.45 L92.92,275.89 L92.93,276.33 L92.94,276.77 L92.95,277.20 L92.96,277.64 L92.97,278.08 L92.98,278.52 L92.99,278.96 L93.00,279.40 L93.32,293.40 L96.14,293.40 L98.20,279.40 L98.20,279.38 L98.21,279.35 L98.21,279.33 L98.21,279.30 L98.22,279.28 L98.22,279.25 L98.23,279.23 L98.23,279.20 L98.23,279.18 L98.24,279.15 L98.24,279.13 L98.25,279.10 L98.25,279.08 L98.25,279.06 L98.26,279.03 L98.26,279.01 L98.27,278.98 L98.27,278.96 L98.27,278.93 L98.28,278.91 L98.28,278.88 L98.29,278.86 L98.29,278.83 L98.30,278.81 L98.30,278.78 L98.31,278.76 L98.31,278.73 L98.31,278.71 L98.32,278.69 L98.32,278.66 L98.33,278.64 L98.33,278.61 L98.34,278.59 L98.34,278.56 L98.35,278.54 L98.35,278.51 L98.36,278.49 L98.36,278.46 L98.37,278.44 L98.38,278.41 L98.38,278.39 L98.39,278.37 L98.39,278.34 L98.40,278.32 L98.41,278.29 L98.41,278.27 L98.42,278.24 L98.42,278.22 L98.43,278.19 L98.44,278.17 L98.44,278.14 L98.45,278.12 L98.46,278.09 L98.47,278.07 L98.47,278.04 L98.48,278.02 L98.49,278.00 L98.50,277.97 L98.51,277.95 L98.52,277.92 L98.53,277.90 L98.54,277.87 L98.55,277.85 L98.57,277.82 L98.58,277.80 L98.60,277.77 L98.61,277.75 L98.64,277.72 L98.70,277.70 L98.77,277.72 L98.80,277.75 L98.83,277.77 L98.84,277.80 L98.86,277.82 L98.88,277.85 L98.89,277.87 L98.90,277.90 L98.92,277.92 L98.93,277.95 L98.94,277.97 L98.95,278.00 L98.96,278.02 L98.97,278.04 L98.98,278.07 L98.99,278.09 L99.00,278.12 L99.01,278.14 L99.01,278.17 L99.02,278.19 L99.03,278.22 L99.04,278.24 L99.05,278.27 L99.05,278.29 L99.06,278.32 L99.07,278.34 L99.08,278.37 L99.08,278.39 L99.09,278.41 L99.10,278.44 L99.10,278.46 L99.11,278.49 L99.11,278.51 L99.12,278.54 L99.13,278.56 L99.13,278.59 L99.14,278.61 L99.15,278.64 L99.15,278.66 L99.16,278.69 L99.16,278.71 L99.17,278.73 L99.17,278.76 L99.18,278.78 L99.18,278.81 L99.19,278.83 L99.20,278.86 L99.20,278.88 L99.21,278.91 L99.21,278.93 L99.22,278.96 L99.22,278.98 L99.23,279.01 L99.23,279.03 L99.24,279.06 L99.24,279.08 L99.25,279.10 L99.25,279.13 L99.25,279.15 L99.26,279.18 L99.26,279.20 L99.27,279.23 L99.27,279.25 L99.28,279.28 L99.28,279.30 L99.29,279.33 L99.29,279.35 L99.30,279.38 L99.30,279.40 L101.77,293.40 L104.72,293.40 L105.00,279.40 L105.01,279.04 L105.01,278.68 L105.02,278.32 L105.03,277.96 L105.04,277.60 L105.04,277.23 L105.05,276.87 L105.06,276.51 L105.07,276.15 L105.08,275.79 L105.08,275.43 L105.09,275.07 L105.10,274.71 L105.11,274.35 L105.12,273.99 L105.12,273.63 L105.13,273.27 L105.14,272.90 L105.15,272.54 L105.16,272.18 L105.17,271.82 L105.17,271.46 L105.18,271.10 L105.19,270.74 L105.20,270.38 L105.21,270.02 L105.22,269.66 L105.23,269.30 L105.24,268.93 L105.25,268.57 L105.26,268.21 L105.27,267.85 L105.28,267.49 L105.29,267.13 L105.30,266.77 L105.31,266.41 L105.32,266.05 L105.33,265.69 L105.34,265.33 L105.35,264.97 L105.36,264.60 L105.37,264.24 L105.39,263.88 L105.40,263.52 L105.41,263.16 L105.42,262.80 L105.44,262.44 L105.45,262.08 L105.46,261.72 L105.48,261.36 L105.49,261.00 L105.50,260.63 L105.52,260.27 L105.53,259.91 L105.55,259.55 L105.57,259.19 L105.58,258.83 L105.60,258.47 L105.62,258.11 L105.64,257.75 L105.66,257.39 L105.68,257.03 L105.71,256.67 L105.73,256.30 L105.76,255.94 L105.79,255.58 L105.83,255.22 L105.88,254.86 L106.00,254.50 L106.13,254.86 L106.19,255.22 L106.23,255.58 L106.26,255.94 L106.30,256.30 L106.32,256.67 L106.35,257.03 L106.37,257.39 L106.40,257.75 L106.42,258.11 L106.44,258.47 L106.46,258.83 L106.48,259.19 L106.50,259.55 L106.51,259.91 L106.53,260.27 L106.55,260.63 L106.56,261.00 L106.58,261.36 L106.59,261.72 L106.61,262.08 L106.62,262.44 L106.64,262.80 L106.65,263.16 L106.66,263.52 L106.68,263.88 L106.69,264.24 L106.70,264.60 L106.71,264.97 L106.73,265.33 L106.74,265.69 L106.75,266.05 L106.76,266.41 L106.77,266.77 L106.78,267.13 L106.79,267.49 L106.81,267.85 L106.82,268.21 L106.83,268.57 L106.84,268.93 L106.85,269.30 L106.86,269.66 L106.87,270.02 L106.88,270.38 L106.89,270.74 L106.90,271.10 L106.91,271.46 L106.92,271.82 L106.93,272.18 L106.94,272.54 L106.95,272.90 L106.95,273.27 L106.96,273.63 L106.97,273.99 L106.98,274.35 L106.99,274.71 L107.00,275.07 L107.01,275.43 L107.02,275.79 L107.03,276.15 L107.03,276.51 L107.04,276.87 L107.05,277.23 L107.06,277.60 L107.07,277.96 L107.08,278.32 L107.08,278.68 L107.09,279.04 L107.10,279.40 L107.41,293.40 L112.51,293.40 L112.70,279.40 L112.71,278.97 L112.71,278.54 L112.72,278.11 L112.72,277.68 L112.73,277.26 L112.74,276.83 L112.74,276.40 L112.75,275.97 L112.75,275.54 L112.76,275.11 L112.77,274.68 L112.77,274.25 L112.78,273.82 L112.79,273.39 L112.79,272.97 L112.80,272.54 L112.81,272.11 L112.81,271.68 L112.82,271.25 L112.83,270.82 L112.83,270.39 L112.84,269.96 L112.85,269.53 L112.85,269.10 L112.86,268.68 L112.87,268.25 L112.88,267.82 L112.88,267.39 L112.89,266.96 L112.90,266.53 L112.91,266.10 L112.91,265.67 L112.92,265.24 L112.93,264.81 L112.94,264.39 L112.95,263.96 L112.96,263.53 L112.96,263.10 L112.97,262.67 L112.98,262.24 L112.99,261.81 L113.00,261.38 L113.01,260.95 L113.02,260.52 L113.03,260.10 L113.04,259.67 L113.05,259.24 L113.06,258.81 L113.07,258.38 L113.08,257.95 L113.09,257.52 L113.10,257.09 L113.11,256.66 L113.13,256.23 L113.14,255.81 L113.15,255.38 L113.17,254.95 L113.18,254.52 L113.20,254.09 L113.21,253.66 L113.23,253.23 L113.25,252.80 L113.26,252.37 L113.28,251.94 L113.31,251.52 L113.33,251.09 L113.36,250.66 L113.40,250.23 L113.50,249.80 L113.69,250.23 L113.77,250.66 L113.83,251.09 L113.89,251.52 L113.93,251.94 L113.97,252.37 L114.01,252.80 L114.04,253.23 L114.08,253.66 L114.11,254.09 L114.14,254.52 L114.17,254.95 L114.19,255.38 L114.22,255.81 L114.25,256.23 L114.27,256.66 L114.29,257.09 L114.32,257.52 L114.34,257.95 L114.36,258.38 L114.38,258.81 L114.40,259.24 L114.42,259.67 L114.44,260.10 L114.46,260.52 L114.48,260.95 L114.50,261.38 L114.52,261.81 L114.54,262.24 L114.56,262.67 L114.57,263.10 L114.59,263.53 L114.61,263.96 L114.62,264.39 L114.64,264.81 L114.66,265.24 L114.67,265.67 L114.69,266.10 L114.70,266.53 L114.72,266.96 L114.73,267.39 L114.75,267.82 L114.76,268.25 L114.78,268.68 L114.79,269.10 L114.81,269.53 L114.82,269.96 L114.83,270.39 L114.85,270.82 L114.86,271.25 L114.88,271.68 L114.89,272.11 L114.90,272.54 L114.92,272.97 L114.93,273.39 L114.94,273.82 L114.95,274.25 L114.97,274.68 L114.98,275.11 L114.99,275.54 L115.00,275.97 L115.02,276.40 L115.03,276.83 L115.04,277.26 L115.05,277.68 L115.06,278.11 L115.08,278.54 L115.09,278.97 L115.10,279.40 L115.48,293.40 L125.54,293.40 L126.00,279.40 L126.03,278.54 L126.06,277.69 L126.09,276.83 L126.11,275.97 L126.14,275.12 L126.17,274.26 L126.20,273.40 L126.23,272.55 L126.26,271.69 L126.29,270.83 L126.32,269.98 L126.36,269.12 L126.39,268.27 L126.42,267.41 L126.45,266.55 L126.48,265.70 L126.51,264.84 L126.55,263.98 L126.58,263.13 L126.61,262.27 L126.65,261.41 L126.68,260.56 L126.72,259.70 L126.75,258.84 L126.79,257.99 L126.82,257.13 L126.86,256.27 L126.89,255.42 L126.93,254.56 L126.97,253.70 L127.01,252.85 L127.04,251.99 L127.08,251.13 L127.12,250.28 L127.16,249.42 L127.20,248.57 L127.24,247.71 L127.29,246.85 L127.33,246.00 L127.37,245.14 L127.42,244.28 L127.46,243.43 L127.51,242.57 L127.55,241.71 L127.60,240.86 L127.65,240.00 L127.70,239.14 L127.75,238.29 L127.80,237.43 L127.85,236.57 L127.91,235.72 L127.96,234.86 L128.02,234.00 L128.08,233.15 L128.14,232.29 L128.21,231.43 L128.27,230.58 L128.34,229.72 L128.42,228.87 L128.49,228.01 L128.57,227.15 L128.66,226.30 L128.75,225.44 L128.85,224.58 L128.96,223.73 L129.09,222.87 L129.24,222.01 L129.43,221.16 L129.90,220.30 L130.42,221.16 L130.63,222.01 L130.80,222.87 L130.94,223.73 L131.06,224.58 L131.17,225.44 L131.27,226.30 L131.36,227.15 L131.45,228.01 L131.54,228.87 L131.62,229.72 L131.69,230.58 L131.77,231.43 L131.84,232.29 L131.90,233.15 L131.97,234.00 L132.03,234.86 L132.10,235.72 L132.16,236.57 L132.22,237.43 L132.27,238.29 L132.33,239.14 L132.38,240.00 L132.44,240.86 L132.49,241.71 L132.54,242.57 L132.59,243.43 L132.64,244.28 L132.69,245.14 L132.74,246.00 L132.78,246.85 L132.83,247.71 L132.87,248.57 L132.92,249.42 L132.96,250.28 L133.01,251.13 L133.05,251.99 L133.09,252.85 L133.13,253.70 L133.17,254.56 L133.21,255.42 L133.25,256.27 L133.29,257.13 L133.33,257.99 L133.37,258.84 L133.41,259.70 L133.45,260.56 L133.49,261.41 L133.52,262.27 L133.56,263.13 L133.60,263.98 L133.63,264.84 L133.67,265.70 L133.70,266.55 L133.74,267.41 L133.77,268.27 L133.81,269.12 L133.84,269.98 L133.88,270.83 L133.91,271.69 L133.94,272.55 L133.98,273.40 L134.01,274.26 L134.04,275.12 L134.07,275.97 L134.11,276.83 L134.14,277.69 L134.17,278.54 L134.20,279.40 L134.71,293.40 L138.12,293.40 L138.90,279.40 L138.91,279.26 L138.92,279.11 L138.92,278.97 L138.93,278.83 L138.94,278.68 L138.95,278.54 L138.96,278.40 L138.97,278.25 L138.97,278.11 L138.98,277.97 L138.99,277.82 L139.00,277.68 L139.01,277.53 L139.02,277.39 L139.03,277.25 L139.04,277.10 L139.05,276.96 L139.05,276.82 L139.06,276.67 L139.07,276.53 L139.08,276.39 L139.09,276.24 L139.10,276.10 L139.11,275.96 L139.12,275.81 L139.13,275.67 L139.14,275.53 L139.15,275.38 L139.16,275.24 L139.17,275.10 L139.18,274.95 L139.19,274.81 L139.21,274.67 L139.22,274.52 L139.23,274.38 L139.24,274.23 L139.25,274.09 L139.26,273.95 L139.27,273.80 L139.29,273.66 L139.30,273.52 L139.31,273.37 L139.32,273.23 L139.34,273.09 L139.35,272.94 L139.36,272.80 L139.38,272.66 L139.39,272.51 L139.41,272.37 L139.42,272.23 L139.44,272.08 L139.45,271.94 L139.47,271.80 L139.49,271.65 L139.50,271.51 L139.52,271.37 L139.54,271.22 L139.56,271.08 L139.58,270.93 L139.60,270.79 L139.63,270.65 L139.65,270.50 L139.68,270.36 L139.70,270.22 L139.74,270.07 L139.77,269.93 L139.81,269.79 L139.87,269.64 L140.00,269.50 L140.13,269.64 L140.19,269.79 L140.23,269.93 L140.26,270.07 L140.30,270.22 L140.32,270.36 L140.35,270.50 L140.37,270.65 L140.40,270.79 L140.42,270.93 L140.44,271.08 L140.46,271.22 L140.48,271.37 L140.50,271.51 L140.51,271.65 L140.53,271.80 L140.55,271.94 L140.56,272.08 L140.58,272.23 L140.59,272.37 L140.61,272.51 L140.62,272.66 L140.64,272.80 L140.65,272.94 L140.66,273.09 L140.68,273.23 L140.69,273.37 L140.70,273.52 L140.71,273.66 L140.73,273.80 L140.74,273.95 L140.75,274.09 L140.76,274.23 L140.77,274.38 L140.78,274.52 L140.79,274.67 L140.81,274.81 L140.82,274.95 L140.83,275.10 L140.84,275.24 L140.85,275.38 L140.86,275.53 L140.87,275.67 L140.88,275.81 L140.89,275.96 L140.90,276.10 L140.91,276.24 L140.92,276.39 L140.93,276.53 L140.94,276.67 L140.95,276.82 L140.95,276.96 L140.96,277.10 L140.97,277.25 L140.98,277.39 L140.99,277.53 L141.00,277.68 L141.01,277.82 L141.02,277.97 L141.03,278.11 L141.03,278.25 L141.04,278.40 L141.05,278.54 L141.06,278.68 L141.07,278.83 L141.08,278.97 L141.08,279.11 L141.09,279.26 L141.10,279.40 L141.88,293.40 L146.51,293.40 L147.10,279.40 L147.14,278.44 L147.18,277.48 L147.22,276.51 L147.26,275.55 L147.31,274.59 L147.35,273.63 L147.39,272.66 L147.43,271.70 L147.48,270.74 L147.52,269.78 L147.57,268.81 L147.61,267.85 L147.66,266.89 L147.70,265.93 L147.75,264.97 L147.79,264.00 L147.84,263.04 L147.89,262.08 L147.93,261.12 L147.98,260.15 L148.03,259.19 L148.08,258.23 L148.13,257.27 L148.18,256.30 L148.23,255.34 L148.28,254.38 L148.33,253.42 L148.38,252.46 L148.44,251.49 L148.49,250.53 L148.54,249.57 L148.60,248.61 L148.66,247.64 L148.71,246.68 L148.77,245.72 L148.83,244.76 L148.89,243.79 L148.95,242.83 L149.01,241.87 L149.07,240.91 L149.13,239.94 L149.20,238.98 L149.26,238.02 L149.33,237.06 L149.40,236.10 L149.47,235.13 L149.54,234.17 L149.61,233.21 L149.69,232.25 L149.76,231.28 L149.84,230.32 L149.92,229.36 L150.00,228.40 L150.09,227.43 L150.18,226.47 L150.27,225.51 L150.36,224.55 L150.46,223.59 L150.57,222.62 L150.68,221.66 L150.79,220.70 L150.92,219.74 L151.05,218.77 L151.19,217.81 L151.35,216.85 L151.53,215.89 L151.75,214.92 L152.03,213.96 L152.70,213.00 L153.66,213.96 L154.06,214.92 L154.37,215.89 L154.63,216.85 L154.85,217.81 L155.06,218.77 L155.25,219.74 L155.42,220.70 L155.59,221.66 L155.75,222.62 L155.89,223.59 L156.04,224.55 L156.17,225.51 L156.30,226.47 L156.43,227.43 L156.55,228.40 L156.67,229.36 L156.79,230.32 L156.90,231.28 L157.01,232.25 L157.11,233.21 L157.22,234.17 L157.32,235.13 L157.42,236.10 L157.52,237.06 L157.61,238.02 L157.70,238.98 L157.80,239.94 L157.89,240.91 L157.98,241.87 L158.06,242.83 L158.15,243.79 L158.23,244.76 L158.32,245.72 L158.40,246.68 L158.48,247.64 L158.56,248.61 L158.64,249.57 L158.71,250.53 L158.79,251.49 L158.87,252.46 L158.94,253.42 L159.02,254.38 L159.09,255.34 L159.16,256.30 L159.23,257.27 L159.30,258.23 L159.37,259.19 L159.44,260.15 L159.51,261.12 L159.58,262.08 L159.64,263.04 L159.71,264.00 L159.78,264.97 L159.84,265.93 L159.91,266.89 L159.97,267.85 L160.03,268.81 L160.10,269.78 L160.16,270.74 L160.22,271.70 L160.28,272.66 L160.34,273.63 L160.40,274.59 L160.46,275.55 L160.52,276.51 L160.58,277.48 L160.64,278.44 L160.70,279.40 L161.54,293.40 L162.88,293.40 L165.00,279.40 L165.05,279.08 L165.10,278.77 L165.15,278.45 L165.19,278.14 L165.24,277.82 L165.29,277.50 L165.34,277.19 L165.39,276.87 L165.45,276.56 L165.50,276.24 L165.55,275.92 L165.60,275.61 L165.65,275.29 L165.71,274.98 L165.76,274.66 L165.82,274.34 L165.87,274.03 L165.93,273.71 L165.98,273.40 L166.04,273.08 L166.10,272.77 L166.15,272.45 L166.21,272.13 L166.27,271.82 L166.33,271.50 L166.39,271.19 L166.45,270.87 L166.51,270.55 L166.57,270.24 L166.64,269.92 L166.70,269.61 L166.77,269.29 L166.83,268.97 L166.90,268.66 L166.97,268.34 L167.04,268.03 L167.11,267.71 L167.18,267.39 L167.25,267.08 L167.32,266.76 L167.40,266.45 L167.47,266.13 L167.55,265.81 L167.63,265.50 L167.71,265.18 L167.79,264.87 L167.87,264.55 L167.96,264.23 L168.05,263.92 L168.14,263.60 L168.23,263.29 L168.32,262.97 L168.42,262.66 L168.52,262.34 L168.63,262.02 L168.74,261.71 L168.85,261.39 L168.96,261.08 L169.09,260.76 L169.22,260.44 L169.35,260.13 L169.50,259.81 L169.65,259.50 L169.82,259.18 L170.01,258.86 L170.22,258.55 L170.48,258.23 L170.81,257.92 L171.60,257.60 L171.75,257.61 L171.90,257.62 L172.05,257.66 L172.20,257.70 L172.35,257.75 L172.50,257.82 L172.65,257.89 L172.80,257.98 L172.95,258.08 L173.10,258.18 L173.25,258.30 L173.40,258.43 L173.55,258.56 L173.70,258.71 L173.85,258.86 L174.00,259.02 L174.15,259.19 L174.30,259.37 L174.45,259.55 L174.60,259.75 L174.75,259.94 L174.90,260.15 L175.05,260.36 L175.20,260.58 L175.35,260.81 L175.50,261.04 L175.65,261.27 L175.80,261.51 L175.95,261.76 L176.10,262.01 L176.25,262.26 L176.40,262.52 L176.55,262.78 L176.70,263.05 L176.85,263.31 L177.00,263.58 L177.15,263.86 L177.30,264.13 L177.45,264.41 L177.60,264.69 L177.75,264.97 L177.90,265.25 L178.05,265.53 L178.20,265.82 L178.35,266.10 L178.50,266.38 L178.65,266.67 L178.80,266.95 L178.95,267.23 L179.10,267.51 L179.25,267.79 L179.40,268.07 L179.55,268.34 L179.70,268.62 L179.85,268.89 L180.00,269.15 L180.15,269.42 L180.30,269.68 L180.45,269.94 L180.60,270.19 L180.75,270.44 L180.90,270.69 L181.05,270.93 L181.20,271.16 L181.35,271.39 L181.50,271.62 L181.65,271.84 L181.80,272.05 L181.95,272.26 L182.10,272.45 L182.25,272.65 L182.40,272.83 L182.55,273.01 L182.70,273.18 L182.85,273.34 L183.00,273.49 L183.15,273.64 L183.30,273.77 L183.45,273.90 L183.60,274.02 L183.75,274.12 L183.90,274.22 L184.05,274.31 L184.20,274.38 L184.35,274.45 L184.50,274.50 L184.65,274.54 L184.80,274.58 L184.95,274.59 L185.10,274.60 L185.25,274.59 L185.40,274.57 L185.55,274.52 L185.70,274.47 L185.85,274.39 L186.00,274.30 L186.15,274.20 L186.30,274.08 L186.45,273.94 L186.60,273.79 L186.75,273.63 L186.90,273.45 L187.05,273.26 L187.21,273.05 L187.36,272.83 L187.51,272.60 L187.66,272.35 L187.81,272.09 L187.96,271.82 L188.11,271.54 L188.26,271.25 L188.41,270.94 L188.56,270.62 L188.71,270.30 L188.86,269.96 L189.01,269.61 L189.16,269.25 L189.31,268.88 L189.46,268.50 L189.61,268.11 L189.76,267.71 L189.91,267.30 L190.06,266.89 L190.21,266.46 L190.36,266.03 L190.51,265.59 L190.66,265.14 L190.81,264.68 L190.96,264.22 L191.12,263.75 L191.27,263.27 L191.42,262.79 L191.57,262.30 L191.72,261.81 L191.87,261.31 L192.02,260.80 L192.17,260.29 L192.32,259.78 L192.47,259.26 L192.62,258.73 L192.77,258.20 L192.92,257.67 L193.07,257.14 L193.22,256.60 L193.37,256.05 L193.52,255.51 L193.67,254.96 L193.82,254.41 L193.97,253.86 L194.12,253.31 L194.27,252.76 L194.42,252.20 L194.57,251.64 L194.72,251.09 L194.87,250.53 L195.03,249.97 L195.18,249.41 L195.33,248.86 L195.48,248.30 L195.63,247.74 L195.78,247.19 L195.93,246.64 L196.08,246.09 L196.23,245.54 L196.38,244.99 L196.53,244.45 L196.68,243.90 L196.83,243.36 L196.98,242.83 L197.13,242.30 L197.28,241.77 L197.43,241.24 L197.58,240.72 L197.73,240.21 L197.88,239.70 L198.03,239.19 L198.18,238.69 L198.33,238.20 L198.48,237.71 L198.63,237.23 L198.78,236.75 L198.94,236.28 L199.09,235.82 L199.24,235.36 L199.39,234.91 L199.54,234.47 L199.69,234.04 L199.84,233.61 L199.99,233.20 L200.14,232.79 L200.29,232.39 L200.44,232.00 L200.59,231.62 L200.74,231.25 L200.89,230.89 L201.04,230.54 L201.19,230.20 L201.34,229.88 L201.49,229.56 L201.64,229.25 L201.79,228.96 L201.94,228.68 L202.09,228.41 L202.24,228.15 L202.39,227.90 L202.54,227.67 L202.69,227.45 L202.85,227.24 L203.00,227.05 L203.15,226.87 L203.30,226.71 L203.45,226.56 L203.60,226.42 L203.75,226.30 L203.90,226.20 L204.05,226.11 L204.20,226.03 L204.35,225.98 L204.50,225.93 L204.65,225.91 L204.80,225.90 L205.93,226.68 L206.40,227.45 L206.76,228.23 L207.06,229.00 L207.33,229.78 L207.57,230.55 L207.79,231.33 L208.00,232.10 L208.19,232.88 L208.38,233.65 L208.55,234.43 L208.72,235.20 L208.88,235.98 L209.03,236.76 L209.18,237.53 L209.33,238.31 L209.47,239.08 L209.60,239.86 L209.73,240.63 L209.86,241.41 L209.99,242.18 L210.11,242.96 L210.23,243.73 L210.34,244.51 L210.46,245.28 L210.57,246.06 L210.68,246.83 L210.79,247.61 L210.89,248.39 L211.00,249.16 L211.10,249.94 L211.20,250.71 L211.30,251.49 L211.40,252.26 L211.49,253.04 L211.59,253.81 L211.68,254.59 L211.78,255.36 L211.87,256.14 L211.96,256.91 L212.05,257.69 L212.13,258.47 L212.22,259.24 L212.31,260.02 L212.39,260.79 L212.48,261.57 L212.56,262.34 L212.64,263.12 L212.72,263.89 L212.80,264.67 L212.88,265.44 L212.96,266.22 L213.04,266.99 L213.12,267.77 L213.19,268.54 L213.27,269.32 L213.34,270.10 L213.42,270.87 L213.49,271.65 L213.57,272.42 L213.64,273.20 L213.71,273.97 L213.78,274.75 L213.85,275.52 L213.92,276.30 L213.99,277.07 L214.06,277.85 L214.13,278.62 L214.20,279.40 L215.43,293.40 L218.22,293.40 L219.00,279.40 L219.09,277.71 L219.19,276.03 L219.29,274.34 L219.38,272.65 L219.48,270.97 L219.58,269.28 L219.68,267.59 L219.78,265.90 L219.88,264.22 L219.98,262.53 L220.08,260.84 L220.18,259.16 L220.29,257.47 L220.39,255.78 L220.50,254.10 L220.61,252.41 L220.71,250.72 L220.82,249.03 L220.93,247.35 L221.04,245.66 L221.16,243.97 L221.27,242.29 L221.39,240.60 L221.50,238.91 L221.62,237.23 L221.74,235.54 L221.86,233.85 L221.98,232.17 L222.10,230.48 L222.23,228.79 L222.35,227.10 L222.48,225.42 L222.61,223.73 L222.74,222.04 L222.87,220.36 L223.01,218.67 L223.15,216.98 L223.29,215.30 L223.43,213.61 L223.57,211.92 L223.72,210.23 L223.87,208.55 L224.02,206.86 L224.17,205.17 L224.33,203.49 L224.49,201.80 L224.66,200.11 L224.83,198.43 L225.00,196.74 L225.18,195.05 L225.36,193.37 L225.55,191.68 L225.74,189.99 L225.94,188.30 L226.14,186.62 L226.36,184.93 L226.58,183.24 L226.81,181.56 L227.05,179.87 L227.30,178.18 L227.57,176.50 L227.86,174.81 L228.17,173.12 L228.50,171.43 L228.87,169.75 L229.29,168.06 L229.79,166.37 L230.43,164.69 L232.00,163.00 L232.15,163.04 L232.30,163.18 L232.45,163.40 L232.60,163.70 L232.75,164.08 L232.90,164.54 L233.05,165.07 L233.20,165.68 L233.35,166.35 L233.50,167.09 L233.65,167.89 L233.80,168.76 L233.95,169.68 L234.10,170.66 L234.25,171.69 L234.40,172.77 L234.55,173.90 L234.70,175.07 L234.85,176.29 L235.00,177.54 L235.15,178.83 L235.30,180.15 L235.45,181.51 L235.60,182.89 L235.75,184.30 L235.90,185.73 L236.05,187.18 L236.20,188.65 L236.35,190.13 L236.50,191.63 L236.65,193.13 L236.80,194.64 L236.95,196.15 L237.10,197.67 L237.25,199.18 L237.40,200.69 L237.55,202.19 L237.70,203.68 L237.85,205.16 L238.00,206.62 L238.15,208.07 L238.30,209.49 L238.45,210.89 L238.60,212.26 L238.75,213.61 L238.90,214.92 L239.05,216.20 L239.20,217.44 L239.35,218.64 L239.50,219.80 L239.65,218.60 L239.80,217.33 L239.95,216.01 L240.11,214.64 L240.26,213.23 L240.41,211.77 L240.56,210.29 L240.71,208.78 L240.86,207.24 L241.01,205.70 L241.17,204.14 L241.32,202.58 L241.47,201.02 L241.62,199.46 L241.77,197.93 L241.92,196.41 L242.07,194.91 L242.23,193.45 L242.38,192.02 L242.53,190.63 L242.68,189.30 L242.83,188.01 L242.98,186.79 L243.13,185.63 L243.29,184.54 L243.44,183.52 L243.59,182.59 L243.74,181.75 L243.89,181.00 L244.04,180.35 L244.19,179.81 L244.35,179.38 L244.50,179.06 L244.65,178.87 L244.80,178.80 L244.95,178.86 L245.10,179.03 L245.25,179.31 L245.41,179.70 L245.56,180.19 L245.71,180.77 L245.86,181.45 L246.01,182.22 L246.16,183.06 L246.32,183.99 L246.47,184.99 L246.62,186.07 L246.77,187.20 L246.92,188.40 L247.07,189.66 L247.23,190.97 L247.38,192.33 L247.53,193.73 L247.68,195.18 L247.83,196.65 L247.98,198.16 L248.14,199.70 L248.29,201.26 L248.44,202.83 L248.59,204.42 L248.74,206.02 L248.89,207.63 L249.05,209.23 L249.20,210.83 L249.35,212.42 L249.50,214.00 L249.65,215.63 L249.80,217.40 L249.95,219.30 L250.10,221.31 L250.25,223.43 L250.40,225.64 L250.55,227.93 L250.70,230.28 L250.85,232.69 L251.00,235.14 L251.15,237.62 L251.30,240.11 L251.45,242.61 L251.60,245.10 L251.75,247.57 L251.90,250.00 L252.06,252.54 L252.21,255.14 L252.37,257.78 L252.52,260.47 L252.68,263.17 L252.83,265.89 L252.99,268.61 L253.14,271.32 L253.30,274.00 L253.46,271.43 L253.61,269.02 L253.77,266.68 L253.92,264.34 L254.08,261.92 L254.23,259.36 L254.39,256.57 L254.54,253.47 L254.70,250.00 L254.87,245.08 L255.03,238.71 L255.20,231.66 L255.37,224.69 L255.53,218.55 L255.70,214.00 L255.85,210.87 L256.00,207.78 L256.15,204.74 L256.30,201.74 L256.45,198.80 L256.60,195.91 L256.75,193.08 L256.90,190.31 L257.05,187.61 L257.20,184.98 L257.35,182.43 L257.50,179.95 L257.65,177.56 L257.80,175.25 L257.95,173.04 L258.10,170.91 L258.25,168.89 L258.40,166.97 L258.55,165.16 L258.70,163.45 L258.85,161.86 L259.00,160.39 L259.15,159.04 L259.30,157.81 L259.45,156.72 L259.60,155.75 L259.75,154.93 L259.90,154.24 L260.05,153.71 L260.20,153.32 L260.35,153.08 L260.50,153.00 L260.65,153.04 L260.80,153.16 L260.95,153.35 L261.11,153.62 L261.26,153.95 L261.41,154.34 L261.56,154.80 L261.71,155.31 L261.86,155.88 L262.01,156.50 L262.17,157.16 L262.32,157.87 L262.47,158.62 L262.62,159.40 L262.77,160.22 L262.92,161.06 L263.07,161.93 L263.23,162.82 L263.38,163.74 L263.53,164.66 L263.68,165.60 L263.83,166.55 L263.98,167.50 L264.13,168.45 L264.29,169.40 L264.44,170.34 L264.59,171.28 L264.74,172.20 L264.89,173.11 L265.04,173.99 L265.19,174.85 L265.35,175.69 L265.50,176.49 L265.65,177.27 L265.80,178.00 L265.95,177.48 L266.11,176.91 L266.26,176.30 L266.41,175.67 L266.56,175.02 L266.72,174.35 L266.87,173.69 L267.02,173.02 L267.17,172.38 L267.33,171.75 L267.48,171.16 L267.63,170.60 L267.78,170.10 L267.94,169.64 L268.09,169.25 L268.24,168.94 L268.39,168.70 L268.55,168.55 L268.70,168.50 L268.85,168.62 L269.00,168.96 L269.15,169.52 L269.31,170.29 L269.46,171.25 L269.61,172.41 L269.76,173.75 L269.91,175.26 L270.06,176.93 L270.21,178.76 L270.36,180.73 L270.52,182.84 L270.67,185.07 L270.82,187.43 L270.97,189.89 L271.12,192.45 L271.27,195.10 L271.42,197.83 L271.57,200.64 L271.73,203.50 L271.88,206.43 L272.03,209.39 L272.18,212.40 L272.33,215.43 L272.48,218.48 L272.63,221.54 L272.78,224.60 L272.94,227.64 L273.09,230.68 L273.24,233.68 L273.39,236.65 L273.54,239.57 L273.69,242.44 L273.84,245.24 L273.99,247.98 L274.15,250.63 L274.30,253.19 L274.45,255.65 L274.60,258.00 L274.76,256.42 L274.92,254.69 L275.08,252.85 L275.24,250.92 L275.39,248.94 L275.55,246.94 L275.71,244.96 L275.87,243.01 L276.03,241.14 L276.19,239.37 L276.35,237.73 L276.51,236.26 L276.66,234.99 L276.82,233.95 L276.98,233.16 L277.14,232.67 L277.30,232.50 L277.46,232.62 L277.62,232.96 L277.77,233.48 L277.93,234.17 L278.09,234.97 L278.25,235.88 L278.41,236.84 L278.57,237.83 L278.73,238.83 L278.88,239.79 L279.04,240.69 L279.20,241.50 L279.35,240.14 L279.50,238.73 L279.65,237.25 L279.81,235.72 L279.96,234.15 L280.11,232.53 L280.26,230.87 L280.41,229.19 L280.56,227.48 L280.71,225.75 L280.86,224.00 L281.02,222.24 L281.17,220.48 L281.32,218.71 L281.47,216.96 L281.62,215.21 L281.77,213.48 L281.92,211.77 L282.07,210.08 L282.23,208.43 L282.38,206.81 L282.53,205.23 L282.68,203.71 L282.83,202.23 L282.98,200.81 L283.13,199.46 L283.28,198.17 L283.44,196.95 L283.59,195.82 L283.74,194.76 L283.89,193.80 L284.04,192.93 L284.19,192.15 L284.34,191.49 L284.49,190.93 L284.65,190.49 L284.80,190.16 L284.95,189.97 L285.10,189.90 L285.25,189.93 L285.41,190.00 L285.56,190.12 L285.72,190.26 L285.87,190.43 L286.02,190.61 L286.18,190.79 L286.33,190.97 L286.48,191.14 L286.64,191.28 L286.79,191.40 L286.95,191.47 L287.10,191.50 L287.25,191.49 L287.41,191.47 L287.56,191.43 L287.72,191.39 L287.87,191.34 L288.02,191.28 L288.18,191.22 L288.33,191.16 L288.48,191.11 L288.64,191.07 L288.79,191.03 L288.95,191.01 L289.10,191.00 L289.57,192.28 L289.76,193.56 L289.91,194.84 L290.04,196.12 L290.15,197.41 L290.25,198.69 L290.34,199.97 L290.43,201.25 L290.51,202.53 L290.58,203.81 L290.66,205.09 L290.73,206.37 L290.79,207.66 L290.86,208.94 L290.92,210.22 L290.98,211.50 L291.04,212.78 L291.09,214.06 L291.15,215.34 L291.20,216.62 L291.25,217.90 L291.30,219.19 L291.35,220.47 L291.40,221.75 L291.45,223.03 L291.49,224.31 L291.54,225.59 L291.58,226.87 L291.63,228.15 L291.67,229.43 L291.71,230.72 L291.76,232.00 L291.80,233.28 L291.84,234.56 L291.88,235.84 L291.92,237.12 L291.96,238.40 L291.99,239.68 L292.03,240.97 L292.07,242.25 L292.11,243.53 L292.14,244.81 L292.18,246.09 L292.21,247.37 L292.25,248.65 L292.28,249.93 L292.32,251.21 L292.35,252.50 L292.39,253.78 L292.42,255.06 L292.45,256.34 L292.49,257.62 L292.52,258.90 L292.55,260.18 L292.58,261.46 L292.61,262.74 L292.64,264.03 L292.68,265.31 L292.71,266.59 L292.74,267.87 L292.77,269.15 L292.80,270.43 L292.83,271.71 L292.86,272.99 L292.89,274.28 L292.91,275.56 L292.94,276.84 L292.97,278.12 L293.00,279.40 L293.31,293.40 L295.11,293.40 L295.40,279.40 L295.43,278.16 L295.45,276.92 L295.48,275.67 L295.50,274.43 L295.53,273.19 L295.56,271.95 L295.58,270.71 L295.61,269.46 L295.64,268.22 L295.66,266.98 L295.69,265.74 L295.72,264.50 L295.75,263.25 L295.78,262.01 L295.80,260.77 L295.83,259.53 L295.86,258.29 L295.89,257.04 L295.92,255.80 L295.95,254.56 L295.98,253.32 L296.01,252.08 L296.04,250.83 L296.07,249.59 L296.11,248.35 L296.14,247.11 L296.17,245.87 L296.20,244.62 L296.24,243.38 L296.27,242.14 L296.30,240.90 L296.34,239.66 L296.37,238.41 L296.41,237.17 L296.44,235.93 L296.48,234.69 L296.52,233.44 L296.55,232.20 L296.59,230.96 L296.63,229.72 L296.67,228.48 L296.71,227.23 L296.75,225.99 L296.79,224.75 L296.84,223.51 L296.88,222.27 L296.92,221.02 L296.97,219.78 L297.02,218.54 L297.06,217.30 L297.11,216.06 L297.16,214.81 L297.21,213.57 L297.27,212.33 L297.32,211.09 L297.38,209.85 L297.44,208.60 L297.50,207.36 L297.57,206.12 L297.64,204.88 L297.71,203.64 L297.79,202.39 L297.87,201.15 L297.96,199.91 L298.06,198.67 L298.17,197.43 L298.30,196.18 L298.48,194.94 L298.90,193.70 L299.05,193.76 L299.20,193.93 L299.36,194.22 L299.51,194.60 L299.66,195.08 L299.81,195.64 L299.96,196.28 L300.12,196.99 L300.27,197.76 L300.42,198.59 L300.57,199.47 L300.72,200.39 L300.88,201.34 L301.03,202.33 L301.18,203.33 L301.33,204.34 L301.48,205.36 L301.64,206.37 L301.79,207.38 L301.94,208.37 L302.09,209.33 L302.24,210.27 L302.40,211.16 L302.55,212.01 L302.70,212.80 L302.85,212.06 L303.00,211.28 L303.15,210.44 L303.30,209.57 L303.45,208.67 L303.60,207.75 L303.75,206.82 L303.90,205.87 L304.05,204.93 L304.20,204.00 L304.35,203.07 L304.50,202.18 L304.65,201.31 L304.80,200.47 L304.95,199.68 L305.10,198.95 L305.25,198.27 L305.40,197.66 L305.55,197.12 L305.70,196.67 L305.85,196.30 L306.00,196.03 L306.15,195.86 L306.30,195.80 L306.46,195.83 L306.62,195.91 L306.78,196.03 L306.95,196.18 L307.11,196.36 L307.27,196.55 L307.43,196.75 L307.59,196.94 L307.75,197.12 L307.92,197.27 L308.08,197.39 L308.24,197.47 L308.40,197.50 L308.55,197.41 L308.70,197.17 L308.85,196.77 L309.00,196.24 L309.15,195.58 L309.30,194.81 L309.45,193.94 L309.60,192.99 L309.75,191.96 L309.90,190.87 L310.05,189.74 L310.20,188.56 L310.35,187.37 L310.50,186.16 L310.65,184.96 L310.80,183.78 L310.95,182.62 L311.10,181.50 L311.25,180.35 L311.40,179.11 L311.55,177.78 L311.70,176.40 L311.85,174.99 L312.00,173.55 L312.15,172.11 L312.30,170.69 L312.45,169.32 L312.60,168.00 L312.76,166.59 L312.92,165.12 L313.08,163.63 L313.24,162.13 L313.40,160.68 L313.56,159.28 L313.72,157.99 L313.88,156.82 L314.04,155.81 L314.20,155.00 L314.35,154.36 L314.50,153.77 L314.65,153.22 L314.80,152.71 L314.95,152.24 L315.10,151.79 L315.25,151.38 L315.40,150.99 L315.55,150.62 L315.70,150.27 L315.85,149.93 L316.00,149.60 L316.15,149.28 L316.31,148.99 L316.46,148.72 L316.61,148.47 L316.76,148.24 L316.92,148.01 L317.07,147.80 L317.22,147.58 L317.38,147.37 L317.53,147.16 L317.68,146.94 L317.84,146.71 L317.99,146.47 L318.14,146.21 L318.29,145.93 L318.45,145.63 L318.60,145.30 L318.75,144.93 L318.91,144.52 L319.06,144.06 L319.21,143.58 L319.36,143.06 L319.52,142.51 L319.67,141.94 L319.82,141.36 L319.98,140.76 L320.13,140.15 L320.28,139.54 L320.44,138.92 L320.59,138.31 L320.74,137.71 L320.89,137.12 L321.05,136.55 L321.20,136.00 L321.35,135.43 L321.51,134.82 L321.66,134.16 L321.81,133.48 L321.96,132.78 L322.12,132.08 L322.27,131.38 L322.42,130.69 L322.58,130.03 L322.73,129.41 L322.88,128.83 L323.04,128.32 L323.19,127.87 L323.34,127.51 L323.49,127.23 L323.65,127.06 L323.80,127.00 L325.07,129.21 L325.42,131.42 L325.67,133.63 L325.87,135.83 L326.03,138.04 L326.18,140.25 L326.31,142.46 L326.43,144.67 L326.55,146.88 L326.65,149.09 L326.74,151.30 L326.84,153.50 L326.92,155.71 L327.00,157.92 L327.08,160.13 L327.16,162.34 L327.23,164.55 L327.30,166.76 L327.37,168.97 L327.43,171.17 L327.49,173.38 L327.55,175.59 L327.61,177.80 L327.67,180.01 L327.73,182.22 L327.78,184.43 L327.83,186.63 L327.88,188.84 L327.93,191.05 L327.98,193.26 L328.03,195.47 L328.08,197.68 L328.13,199.89 L328.17,202.10 L328.22,204.30 L328.26,206.51 L328.30,208.72 L328.34,210.93 L328.39,213.14 L328.43,215.35 L328.47,217.56 L328.51,219.77 L328.55,221.97 L328.58,224.18 L328.62,226.39 L328.66,228.60 L328.70,230.81 L328.73,233.02 L328.77,235.23 L328.80,237.43 L328.84,239.64 L328.87,241.85 L328.91,244.06 L328.94,246.27 L328.97,248.48 L329.01,250.69 L329.04,252.90 L329.07,255.10 L329.10,257.31 L329.13,259.52 L329.16,261.73 L329.19,263.94 L329.22,266.15 L329.25,268.36 L329.28,270.57 L329.31,272.77 L329.34,274.98 L329.37,277.19 L329.40,279.40 L329.58,293.40 L331.01,293.40 L331.20,279.40 L331.22,277.67 L331.25,275.94 L331.27,274.21 L331.29,272.48 L331.32,270.75 L331.34,269.02 L331.37,267.29 L331.39,265.56 L331.42,263.83 L331.44,262.10 L331.47,260.37 L331.49,258.63 L331.52,256.90 L331.54,255.17 L331.57,253.44 L331.60,251.71 L331.62,249.98 L331.65,248.25 L331.68,246.52 L331.70,244.79 L331.73,243.06 L331.76,241.33 L331.79,239.60 L331.82,237.87 L331.84,236.14 L331.87,234.41 L331.90,232.68 L331.93,230.95 L331.96,229.22 L331.99,227.49 L332.03,225.76 L332.06,224.03 L332.09,222.30 L332.12,220.57 L332.15,218.83 L332.19,217.10 L332.22,215.37 L332.26,213.64 L332.29,211.91 L332.33,210.18 L332.36,208.45 L332.40,206.72 L332.44,204.99 L332.47,203.26 L332.51,201.53 L332.55,199.80 L332.59,198.07 L332.63,196.34 L332.68,194.61 L332.72,192.88 L332.77,191.15 L332.81,189.42 L332.86,187.69 L332.91,185.96 L332.96,184.23 L333.01,182.50 L333.07,180.77 L333.12,179.03 L333.18,177.30 L333.24,175.57 L333.31,173.84 L333.38,172.11 L333.46,170.38 L333.54,168.65 L333.63,166.92 L333.73,165.19 L333.86,163.46 L334.01,161.73 L334.40,160.00 L334.98,161.73 L335.22,163.46 L335.40,165.19 L335.56,166.92 L335.69,168.65 L335.82,170.38 L335.93,172.11 L336.03,173.84 L336.13,175.57 L336.23,177.30 L336.32,179.03 L336.40,180.77 L336.48,182.50 L336.56,184.23 L336.64,185.96 L336.71,187.69 L336.78,189.42 L336.85,191.15 L336.92,192.88 L336.98,194.61 L337.05,196.34 L337.11,198.07 L337.17,199.80 L337.23,201.53 L337.29,203.26 L337.35,204.99 L337.40,206.72 L337.46,208.45 L337.51,210.18 L337.57,211.91 L337.62,213.64 L337.67,215.37 L337.72,217.10 L337.77,218.83 L337.82,220.57 L337.87,222.30 L337.91,224.03 L337.96,225.76 L338.01,227.49 L338.05,229.22 L338.10,230.95 L338.14,232.68 L338.19,234.41 L338.23,236.14 L338.28,237.87 L338.32,239.60 L338.36,241.33 L338.40,243.06 L338.44,244.79 L338.49,246.52 L338.53,248.25 L338.57,249.98 L338.61,251.71 L338.65,253.44 L338.69,255.17 L338.72,256.90 L338.76,258.63 L338.80,260.37 L338.84,262.10 L338.88,263.83 L338.91,265.56 L338.95,267.29 L338.99,269.02 L339.02,270.75 L339.06,272.48 L339.09,274.21 L339.13,275.94 L339.17,277.67 L339.20,279.40 L339.48,293.40 L340.85,293.40 L341.10,279.40 L341.12,278.04 L341.15,276.67 L341.17,275.31 L341.20,273.94 L341.22,272.58 L341.25,271.22 L341.27,269.85 L341.30,268.49 L341.32,267.13 L341.35,265.76 L341.37,264.40 L341.40,263.03 L341.43,261.67 L341.45,260.31 L341.48,258.94 L341.51,257.58 L341.54,256.22 L341.56,254.85 L341.59,253.49 L341.62,252.12 L341.65,250.76 L341.68,249.40 L341.71,248.03 L341.74,246.67 L341.76,245.31 L341.79,243.94 L341.83,242.58 L341.86,241.21 L341.89,239.85 L341.92,238.49 L341.95,237.12 L341.98,235.76 L342.02,234.40 L342.05,233.03 L342.08,231.67 L342.12,230.30 L342.15,228.94 L342.19,227.58 L342.22,226.21 L342.26,224.85 L342.30,223.49 L342.34,222.12 L342.37,220.76 L342.41,219.39 L342.45,218.03 L342.49,216.67 L342.54,215.30 L342.58,213.94 L342.62,212.58 L342.67,211.21 L342.71,209.85 L342.76,208.48 L342.81,207.12 L342.86,205.76 L342.91,204.39 L342.97,203.03 L343.02,201.67 L343.08,200.30 L343.14,198.94 L343.21,197.57 L343.28,196.21 L343.35,194.85 L343.43,193.48 L343.51,192.12 L343.61,190.76 L343.71,189.39 L343.84,188.03 L344.00,186.66 L344.40,185.30 L344.55,185.39 L344.70,185.66 L344.85,186.11 L345.00,186.71 L345.15,187.47 L345.30,188.37 L345.45,189.41 L345.60,190.57 L345.75,191.85 L345.90,193.24 L346.05,194.73 L346.20,196.31 L346.35,197.98 L346.50,199.72 L346.65,201.52 L346.80,203.38 L346.95,205.28 L347.10,207.22 L347.25,209.20 L347.40,211.19 L347.55,213.19 L347.70,215.20 L347.85,217.20 L348.00,219.19 L348.15,221.15 L348.30,223.09 L348.45,224.98 L348.60,226.82 L348.75,228.60 L348.90,230.31 L349.05,231.95 L349.20,233.50 L349.35,232.02 L349.51,230.46 L349.66,228.84 L349.81,227.17 L349.96,225.44 L350.12,223.66 L350.27,221.85 L350.42,220.00 L350.57,218.12 L350.73,216.22 L350.88,214.30 L351.03,212.38 L351.18,210.45 L351.34,208.52 L351.49,206.60 L351.64,204.70 L351.79,202.81 L351.95,200.95 L352.10,199.12 L352.25,197.34 L352.41,195.59 L352.56,193.90 L352.71,192.26 L352.86,190.68 L353.02,189.17 L353.17,187.74 L353.32,186.38 L353.47,185.12 L353.63,183.94 L353.78,182.86 L353.93,181.89 L354.08,181.03 L354.24,180.28 L354.39,179.65 L354.54,179.16 L354.69,178.80 L354.85,178.58 L355.00,178.50 L355.70,179.96 L355.99,181.42 L356.21,182.89 L356.40,184.35 L356.56,185.81 L356.71,187.27 L356.85,188.74 L356.97,190.20 L357.09,191.66 L357.21,193.12 L357.32,194.59 L357.42,196.05 L357.52,197.51 L357.61,198.97 L357.70,200.43 L357.79,201.90 L357.88,203.36 L357.96,204.82 L358.04,206.28 L358.12,207.75 L358.20,209.21 L358.28,210.67 L358.35,212.13 L358.42,213.60 L358.49,215.06 L358.56,216.52 L358.63,217.98 L358.69,219.44 L358.76,220.91 L358.82,222.37 L358.89,223.83 L358.95,225.29 L359.01,226.76 L359.07,228.22 L359.13,229.68 L359.19,231.14 L359.25,232.61 L359.30,234.07 L359.36,235.53 L359.42,236.99 L359.47,238.46 L359.53,239.92 L359.58,241.38 L359.63,242.84 L359.68,244.30 L359.74,245.77 L359.79,247.23 L359.84,248.69 L359.89,250.15 L359.94,251.62 L359.99,253.08 L360.04,254.54 L360.08,256.00 L360.13,257.47 L360.18,258.93 L360.23,260.39 L360.27,261.85 L360.32,263.31 L360.36,264.78 L360.41,266.24 L360.45,267.70 L360.50,269.16 L360.54,270.63 L360.59,272.09 L360.63,273.55 L360.67,275.01 L360.72,276.48 L360.76,277.94 L360.80,279.40 L361.20,293.40 L363.45,293.40 L363.90,279.40 L363.95,277.99 L363.99,276.59 L364.04,275.18 L364.09,273.78 L364.13,272.37 L364.18,270.97 L364.23,269.56 L364.28,268.15 L364.33,266.75 L364.37,265.34 L364.42,263.94 L364.47,262.53 L364.52,261.12 L364.58,259.72 L364.63,258.31 L364.68,256.91 L364.73,255.50 L364.78,254.10 L364.84,252.69 L364.89,251.28 L364.95,249.88 L365.00,248.47 L365.06,247.07 L365.11,245.66 L365.17,244.26 L365.23,242.85 L365.28,241.44 L365.34,240.04 L365.40,238.63 L365.46,237.23 L365.52,235.82 L365.59,234.41 L365.65,233.01 L365.71,231.60 L365.78,230.20 L365.84,228.79 L365.91,227.39 L365.98,225.98 L366.05,224.57 L366.12,223.17 L366.19,221.76 L366.26,220.36 L366.33,218.95 L366.41,217.54 L366.48,216.14 L366.56,214.73 L366.64,213.33 L366.72,211.92 L366.81,210.52 L366.89,209.11 L366.98,207.70 L367.07,206.30 L367.17,204.89 L367.26,203.49 L367.36,202.08 L367.47,200.68 L367.57,199.27 L367.68,197.86 L367.80,196.46 L367.92,195.05 L368.05,193.65 L368.19,192.24 L368.34,190.83 L368.50,189.43 L368.68,188.02 L368.89,186.62 L369.13,185.21 L369.44,183.81 L370.20,182.40 L370.35,182.43 L370.50,182.53 L370.65,182.70 L370.80,182.93 L370.95,183.21 L371.10,183.56 L371.25,183.97 L371.41,184.43 L371.56,184.94 L371.71,185.51 L371.86,186.12 L372.01,186.78 L372.16,187.49 L372.31,188.25 L372.46,189.05 L372.61,189.88 L372.76,190.76 L372.91,191.68 L373.06,192.63 L373.21,193.61 L373.36,194.62 L373.51,195.67 L373.67,196.74 L373.82,197.84 L373.97,198.97 L374.12,200.11 L374.27,201.28 L374.42,202.47 L374.57,203.67 L374.72,204.89 L374.87,206.13 L375.02,207.37 L375.17,208.63 L375.32,209.89 L375.47,211.16 L375.62,212.43 L375.77,213.71 L375.93,214.99 L376.08,216.27 L376.23,217.54 L376.38,218.81 L376.53,220.07 L376.68,221.33 L376.83,222.57 L376.98,223.81 L377.13,225.03 L377.28,226.23 L377.43,227.42 L377.58,228.59 L377.73,229.73 L377.88,230.86 L378.03,231.96 L378.19,233.03 L378.34,234.08 L378.49,235.09 L378.64,236.07 L378.79,237.02 L378.94,237.94 L379.09,238.82 L379.24,239.65 L379.39,240.45 L379.54,241.21 L379.69,241.92 L379.84,242.58 L379.99,243.19 L380.14,243.76 L380.29,244.27 L380.45,244.73 L380.60,245.14 L380.75,245.49 L380.90,245.77 L381.05,246.00 L381.20,246.17 L381.35,246.27 L381.50,246.30 L381.65,246.28 L381.80,246.23 L381.95,246.15 L382.10,246.04 L382.25,245.91 L382.40,245.74 L382.55,245.55 L382.70,245.33 L382.85,245.09 L383.00,244.83 L383.15,244.55 L383.30,244.24 L383.45,243.92 L383.60,243.58 L383.75,243.22 L383.90,242.85 L384.05,242.47 L384.20,242.07 L384.35,241.66 L384.50,241.25 L384.65,240.82 L384.80,240.39 L384.95,239.95 L385.10,239.50 L385.25,239.05 L385.40,238.60 L385.55,238.15 L385.70,237.70 L385.85,237.25 L386.00,236.80 L386.15,236.36 L386.30,235.92 L386.45,235.48 L386.60,235.06 L386.75,234.64 L386.90,234.24 L387.05,233.84 L387.20,233.46 L387.35,233.09 L387.50,232.74 L387.65,232.40 L387.80,232.08 L387.95,231.78 L388.10,231.50 L388.25,231.24 L388.40,231.00 L388.55,230.79 L388.70,230.60 L388.85,230.43 L389.00,230.30 L389.15,230.18 L389.30,230.06 L389.46,229.95 L389.61,229.85 L389.76,229.74 L389.91,229.65 L390.07,229.55 L390.22,229.46 L390.37,229.37 L390.52,229.29 L390.67,229.21 L390.83,229.13 L390.98,229.05 L391.13,228.98 L391.28,228.90 L391.43,228.83 L391.59,228.77 L391.74,228.70 L391.89,228.64 L392.04,228.57 L392.20,228.51 L392.35,228.45 L392.50,228.39 L392.65,228.33 L392.80,228.27 L392.96,228.21 L393.11,228.15 L393.26,228.10 L393.41,228.04 L393.57,227.98 L393.72,227.92 L393.87,227.85 L394.02,227.79 L394.17,227.73 L394.33,227.66 L394.48,227.60 L394.63,227.53 L394.78,227.46 L394.93,227.38 L395.09,227.31 L395.24,227.23 L395.39,227.15 L395.54,227.07 L395.70,226.98 L395.85,226.89 L396.00,226.80 L396.15,226.70 L396.30,226.60 L396.45,226.50 L396.60,226.39 L396.75,226.28 L396.90,226.17 L397.06,226.05 L397.21,225.93 L397.36,225.81 L397.51,225.68 L397.66,225.55 L397.81,225.42 L397.96,225.28 L398.11,225.14 L398.26,225.00 L398.41,224.86 L398.56,224.71 L398.72,224.56 L398.87,224.41 L399.02,224.25 L399.17,224.09 L399.32,223.94 L399.47,223.77 L399.62,223.61 L399.77,223.45 L399.92,223.28 L400.07,223.11 L400.22,222.94 L400.37,222.77 L400.52,222.59 L400.68,222.41 L400.83,222.24 L400.98,222.06 L401.13,221.88 L401.28,221.70 L401.43,221.52 L401.58,221.33 L401.73,221.15 L401.88,220.96 L402.03,220.78 L402.18,220.59 L402.34,220.40 L402.49,220.21 L402.64,220.02 L402.79,219.83 L402.94,219.64 L403.09,219.45 L403.24,219.26 L403.39,219.07 L403.54,218.88 L403.69,218.69 L403.84,218.50 L403.99,218.31 L404.14,218.12 L404.30,217.93 L404.45,217.74 L404.60,217.55 L404.75,217.37 L404.90,217.18 L405.05,216.99 L405.20,216.81 L405.35,216.62 L405.50,216.44 L405.65,216.25 L405.80,216.07 L405.96,215.89 L406.11,215.71 L406.26,215.53 L406.41,215.35 L406.56,215.18 L406.71,215.00 L406.86,214.83 L407.01,214.66 L407.16,214.49 L407.31,214.33 L407.46,214.16 L407.61,214.00 L407.76,213.84 L407.92,213.68 L408.07,213.52 L408.22,213.37 L408.37,213.22 L408.52,213.07 L408.67,212.92 L408.82,212.77 L408.97,212.63 L409.12,212.50 L409.27,212.36 L409.42,212.23 L409.58,212.10 L409.73,211.97 L409.88,211.85 L410.03,211.73 L410.18,211.61 L410.33,211.50 L410.48,211.39 L410.63,211.28 L410.78,211.18 L410.93,211.08 L411.08,210.98 L411.23,210.89 L411.38,210.81 L411.54,210.72 L411.69,210.64 L411.84,210.57 L411.99,210.50 L412.14,210.43 L412.29,210.37 L412.44,210.31 L412.59,210.26 L412.74,210.21 L412.89,210.17 L413.04,210.13 L413.20,210.10 L413.35,210.07 L413.50,210.04 L413.65,210.02 L413.80,210.01 L413.95,210.00 L414.10,210.00 L414.25,210.01 L414.40,210.04 L414.55,210.08 L414.70,210.14 L414.85,210.21 L415.00,210.31 L415.16,210.41 L415.31,210.53 L415.46,210.67 L415.61,210.81 L415.76,210.97 L415.91,211.15 L416.06,211.33 L416.21,211.53 L416.36,211.73 L416.51,211.95 L416.66,212.18 L416.81,212.41 L416.96,212.66 L417.11,212.91 L417.27,213.17 L417.42,213.43 L417.57,213.71 L417.72,213.99 L417.87,214.27 L418.02,214.56 L418.17,214.86 L418.32,215.15 L418.47,215.45 L418.62,215.76 L418.77,216.07 L418.92,216.37 L419.07,216.68 L419.22,216.99 L419.38,217.31 L419.53,217.62 L419.68,217.93 L419.83,218.23 L419.98,218.54 L420.13,218.85 L420.28,219.15 L420.43,219.44 L420.58,219.74 L420.73,220.03 L420.88,220.31 L421.03,220.59 L421.18,220.87 L421.33,221.13 L421.49,221.39 L421.64,221.64 L421.79,221.89 L421.94,222.12 L422.09,222.35 L422.24,222.57 L422.39,222.77 L422.54,222.97 L422.69,223.15 L422.84,223.33 L422.99,223.49 L423.14,223.63 L423.29,223.77 L423.44,223.89 L423.60,223.99 L423.75,224.09 L423.90,224.16 L424.05,224.22 L424.20,224.26 L424.35,224.29 L424.50,224.30 L424.65,224.28 L424.81,224.24 L424.96,224.16 L425.11,224.05 L425.27,223.92 L425.42,223.77 L425.57,223.58 L425.73,223.38 L425.88,223.16 L426.03,222.91 L426.19,222.65 L426.34,222.37 L426.49,222.08 L426.65,221.77 L426.80,221.45 L426.95,221.12 L427.11,220.78 L427.26,220.43 L427.41,220.07 L427.57,219.71 L427.72,219.35 L427.87,218.98 L428.03,218.62 L428.18,218.25 L428.33,217.89 L428.49,217.53 L428.64,217.17 L428.79,216.82 L428.95,216.48 L429.10,216.15 L429.25,215.83 L429.41,215.52 L429.56,215.23 L429.71,214.95 L429.87,214.69 L430.02,214.44 L430.17,214.22 L430.33,214.02 L430.48,213.83 L430.63,213.68 L430.79,213.55 L430.94,213.44 L431.09,213.36 L431.25,213.32 L431.40,213.30 L432.17,214.26 L432.49,215.22 L432.73,216.17 L432.94,217.13 L433.12,218.09 L433.29,219.05 L433.44,220.01 L433.58,220.96 L433.71,221.92 L433.84,222.88 L433.96,223.84 L434.07,224.80 L434.18,225.75 L434.28,226.71 L434.38,227.67 L434.48,228.63 L434.58,229.59 L434.67,230.54 L434.76,231.50 L434.85,232.46 L434.93,233.42 L435.01,234.38 L435.10,235.33 L435.17,236.29 L435.25,237.25 L435.33,238.21 L435.40,239.17 L435.48,240.12 L435.55,241.08 L435.62,242.04 L435.69,243.00 L435.76,243.96 L435.83,244.91 L435.89,245.87 L435.96,246.83 L436.02,247.79 L436.09,248.74 L436.15,249.70 L436.21,250.66 L436.27,251.62 L436.33,252.58 L436.39,253.53 L436.45,254.49 L436.51,255.45 L436.57,256.41 L436.63,257.37 L436.68,258.32 L436.74,259.28 L436.79,260.24 L436.85,261.20 L436.90,262.16 L436.96,263.11 L437.01,264.07 L437.06,265.03 L437.11,265.99 L437.17,266.95 L437.22,267.90 L437.27,268.86 L437.32,269.82 L437.37,270.78 L437.42,271.74 L437.47,272.69 L437.52,273.65 L437.56,274.61 L437.61,275.57 L437.66,276.53 L437.71,277.48 L437.75,278.44 L437.80,279.40 L438.48,293.40 L442.41,293.40 L443.10,279.40 L443.12,278.99 L443.14,278.58 L443.16,278.17 L443.18,277.75 L443.20,277.34 L443.22,276.93 L443.25,276.52 L443.27,276.11 L443.29,275.70 L443.31,275.28 L443.33,274.87 L443.36,274.46 L443.38,274.05 L443.40,273.64 L443.42,273.23 L443.45,272.81 L443.47,272.40 L443.49,271.99 L443.52,271.58 L443.54,271.17 L443.56,270.76 L443.59,270.34 L443.61,269.93 L443.64,269.52 L443.66,269.11 L443.69,268.70 L443.72,268.29 L443.74,267.88 L443.77,267.46 L443.79,267.05 L443.82,266.64 L443.85,266.23 L443.88,265.82 L443.91,265.41 L443.93,264.99 L443.96,264.58 L443.99,264.17 L444.02,263.76 L444.05,263.35 L444.08,262.94 L444.12,262.52 L444.15,262.11 L444.18,261.70 L444.21,261.29 L444.25,260.88 L444.28,260.47 L444.32,260.06 L444.36,259.64 L444.39,259.23 L444.43,258.82 L444.47,258.41 L444.51,258.00 L444.55,257.59 L444.59,257.17 L444.64,256.76 L444.68,256.35 L444.73,255.94 L444.78,255.53 L444.83,255.12 L444.89,254.70 L444.95,254.29 L445.01,253.88 L445.07,253.47 L445.15,253.06 L445.23,252.65 L445.32,252.23 L445.42,251.82 L445.56,251.41 L445.90,251.00 L446.23,251.41 L446.36,251.82 L446.46,252.23 L446.55,252.65 L446.63,253.06 L446.70,253.47 L446.76,253.88 L446.82,254.29 L446.88,254.70 L446.93,255.12 L446.98,255.53 L447.03,255.94 L447.07,256.35 L447.12,256.76 L447.16,257.17 L447.20,257.59 L447.24,258.00 L447.28,258.41 L447.32,258.82 L447.35,259.23 L447.39,259.64 L447.42,260.06 L447.46,260.47 L447.49,260.88 L447.53,261.29 L447.56,261.70 L447.59,262.11 L447.62,262.52 L447.65,262.94 L447.68,263.35 L447.71,263.76 L447.74,264.17 L447.77,264.58 L447.80,264.99 L447.82,265.41 L447.85,265.82 L447.88,266.23 L447.90,266.64 L447.93,267.05 L447.96,267.46 L447.98,267.88 L448.01,268.29 L448.03,268.70 L448.06,269.11 L448.08,269.52 L448.10,269.93 L448.13,270.34 L448.15,270.76 L448.18,271.17 L448.20,271.58 L448.22,271.99 L448.24,272.40 L448.27,272.81 L448.29,273.23 L448.31,273.64 L448.33,274.05 L448.35,274.46 L448.38,274.87 L448.40,275.28 L448.42,275.70 L448.44,276.11 L448.46,276.52 L448.48,276.93 L448.50,277.34 L448.52,277.75 L448.54,278.17 L448.56,278.58 L448.58,278.99 L448.60,279.40 L449.27,293.40 L452.31,293.40 L452.80,279.40 L452.82,278.82 L452.84,278.24 L452.86,277.66 L452.88,277.08 L452.90,276.49 L452.92,275.91 L452.95,275.33 L452.97,274.75 L452.99,274.17 L453.01,273.59 L453.03,273.01 L453.06,272.43 L453.08,271.84 L453.10,271.26 L453.12,270.68 L453.15,270.10 L453.17,269.52 L453.19,268.94 L453.22,268.36 L453.24,267.78 L453.26,267.20 L453.29,266.61 L453.31,266.03 L453.34,265.45 L453.36,264.87 L453.39,264.29 L453.42,263.71 L453.44,263.13 L453.47,262.55 L453.49,261.97 L453.52,261.38 L453.55,260.80 L453.58,260.22 L453.61,259.64 L453.63,259.06 L453.66,258.48 L453.69,257.90 L453.72,257.32 L453.75,256.73 L453.78,256.15 L453.82,255.57 L453.85,254.99 L453.88,254.41 L453.91,253.83 L453.95,253.25 L453.98,252.67 L454.02,252.09 L454.06,251.50 L454.09,250.92 L454.13,250.34 L454.17,249.76 L454.21,249.18 L454.25,248.60 L454.29,248.02 L454.34,247.44 L454.38,246.86 L454.43,246.27 L454.48,245.69 L454.53,245.11 L454.59,244.53 L454.65,243.95 L454.71,243.37 L454.77,242.79 L454.85,242.21 L454.93,241.62 L455.02,241.04 L455.12,240.46 L455.26,239.88 L455.60,239.30 L455.95,239.88 L456.09,240.46 L456.20,241.04 L456.30,241.62 L456.38,242.21 L456.46,242.79 L456.52,243.37 L456.59,243.95 L456.65,244.53 L456.70,245.11 L456.76,245.69 L456.81,246.27 L456.86,246.86 L456.91,247.44 L456.95,248.02 L457.00,248.60 L457.04,249.18 L457.08,249.76 L457.12,250.34 L457.16,250.92 L457.20,251.50 L457.24,252.09 L457.27,252.67 L457.31,253.25 L457.35,253.83 L457.38,254.41 L457.41,254.99 L457.45,255.57 L457.48,256.15 L457.51,256.73 L457.54,257.32 L457.57,257.90 L457.61,258.48 L457.64,259.06 L457.67,259.64 L457.69,260.22 L457.72,260.80 L457.75,261.38 L457.78,261.97 L457.81,262.55 L457.84,263.13 L457.86,263.71 L457.89,264.29 L457.92,264.87 L457.94,265.45 L457.97,266.03 L457.99,266.61 L458.02,267.20 L458.04,267.78 L458.07,268.36 L458.09,268.94 L458.12,269.52 L458.14,270.10 L458.17,270.68 L458.19,271.26 L458.21,271.84 L458.24,272.43 L458.26,273.01 L458.28,273.59 L458.30,274.17 L458.33,274.75 L458.35,275.33 L458.37,275.91 L458.39,276.49 L458.41,277.08 L458.44,277.66 L458.46,278.24 L458.48,278.82 L458.50,279.40 L459.01,293.40 L462.16,293.40 L463.10,279.40 L463.11,279.22 L463.12,279.03 L463.14,278.85 L463.15,278.66 L463.16,278.48 L463.18,278.30 L463.19,278.11 L463.20,277.93 L463.21,277.74 L463.23,277.56 L463.24,277.38 L463.25,277.19 L463.27,277.01 L463.28,276.82 L463.30,276.64 L463.31,276.46 L463.32,276.27 L463.34,276.09 L463.35,275.90 L463.37,275.72 L463.38,275.53 L463.40,275.35 L463.41,275.17 L463.43,274.98 L463.44,274.80 L463.46,274.61 L463.47,274.43 L463.49,274.25 L463.51,274.06 L463.52,273.88 L463.54,273.69 L463.56,273.51 L463.57,273.33 L463.59,273.14 L463.61,272.96 L463.62,272.77 L463.64,272.59 L463.66,272.41 L463.68,272.22 L463.70,272.04 L463.72,271.85 L463.74,271.67 L463.76,271.49 L463.78,271.30 L463.80,271.12 L463.82,270.93 L463.84,270.75 L463.86,270.57 L463.88,270.38 L463.91,270.20 L463.93,270.01 L463.96,269.83 L463.98,269.64 L464.01,269.46 L464.03,269.28 L464.06,269.09 L464.09,268.91 L464.12,268.72 L464.15,268.54 L464.19,268.36 L464.22,268.17 L464.26,267.99 L464.30,267.80 L464.34,267.62 L464.39,267.44 L464.45,267.25 L464.51,267.07 L464.60,266.88 L464.80,266.70 L464.96,266.88 L465.02,267.07 L465.07,267.25 L465.11,267.44 L465.15,267.62 L465.18,267.80 L465.21,267.99 L465.24,268.17 L465.27,268.36 L465.29,268.54 L465.32,268.72 L465.34,268.91 L465.36,269.09 L465.39,269.28 L465.41,269.46 L465.43,269.64 L465.45,269.83 L465.46,270.01 L465.48,270.20 L465.50,270.38 L465.52,270.57 L465.53,270.75 L465.55,270.93 L465.57,271.12 L465.58,271.30 L465.60,271.49 L465.61,271.67 L465.63,271.85 L465.64,272.04 L465.66,272.22 L465.67,272.41 L465.69,272.59 L465.70,272.77 L465.71,272.96 L465.73,273.14 L465.74,273.33 L465.75,273.51 L465.76,273.69 L465.78,273.88 L465.79,274.06 L465.80,274.25 L465.81,274.43 L465.83,274.61 L465.84,274.80 L465.85,274.98 L465.86,275.17 L465.87,275.35 L465.88,275.53 L465.90,275.72 L465.91,275.90 L465.92,276.09 L465.93,276.27 L465.94,276.46 L465.95,276.64 L465.96,276.82 L465.97,277.01 L465.98,277.19 L465.99,277.38 L466.00,277.56 L466.01,277.74 L466.02,277.93 L466.03,278.11 L466.04,278.30 L466.05,278.48 L466.06,278.66 L466.07,278.85 L466.08,279.03 L466.09,279.22 L466.10,279.40 L466.82,293.40 L470.74,293.40 L471.10,279.40 L471.11,278.89 L471.13,278.38 L471.14,277.87 L471.15,277.37 L471.17,276.86 L471.18,276.35 L471.19,275.84 L471.21,275.33 L471.22,274.82 L471.24,274.31 L471.25,273.80 L471.26,273.30 L471.28,272.79 L471.29,272.28 L471.31,271.77 L471.32,271.26 L471.34,270.75 L471.35,270.24 L471.37,269.73 L471.38,269.23 L471.40,268.72 L471.41,268.21 L471.43,267.70 L471.45,267.19 L471.46,266.68 L471.48,266.17 L471.50,265.67 L471.51,265.16 L471.53,264.65 L471.55,264.14 L471.56,263.63 L471.58,263.12 L471.60,262.61 L471.62,262.10 L471.64,261.60 L471.66,261.09 L471.67,260.58 L471.69,260.07 L471.71,259.56 L471.73,259.05 L471.75,258.54 L471.77,258.03 L471.80,257.53 L471.82,257.02 L471.84,256.51 L471.86,256.00 L471.88,255.49 L471.91,254.98 L471.93,254.47 L471.96,253.97 L471.98,253.46 L472.01,252.95 L472.03,252.44 L472.06,251.93 L472.09,251.42 L472.12,250.91 L472.15,250.40 L472.18,249.90 L472.21,249.39 L472.25,248.88 L472.29,248.37 L472.33,247.86 L472.37,247.35 L472.42,246.84 L472.47,246.33 L472.52,245.83 L472.59,245.32 L472.68,244.81 L472.90,244.30 L473.13,244.81 L473.22,245.32 L473.30,245.83 L473.36,246.33 L473.41,246.84 L473.46,247.35 L473.51,247.86 L473.55,248.37 L473.59,248.88 L473.62,249.39 L473.66,249.90 L473.69,250.40 L473.72,250.91 L473.76,251.42 L473.79,251.93 L473.81,252.44 L473.84,252.95 L473.87,253.46 L473.90,253.97 L473.92,254.47 L473.95,254.98 L473.97,255.49 L474.00,256.00 L474.02,256.51 L474.04,257.02 L474.07,257.53 L474.09,258.03 L474.11,258.54 L474.13,259.05 L474.15,259.56 L474.17,260.07 L474.19,260.58 L474.21,261.09 L474.23,261.60 L474.25,262.10 L474.27,262.61 L474.29,263.12 L474.31,263.63 L474.33,264.14 L474.35,264.65 L474.36,265.16 L474.38,265.67 L474.40,266.17 L474.42,266.68 L474.43,267.19 L474.45,267.70 L474.47,268.21 L474.48,268.72 L474.50,269.23 L474.52,269.73 L474.53,270.24 L474.55,270.75 L474.57,271.26 L474.58,271.77 L474.60,272.28 L474.61,272.79 L474.63,273.30 L474.64,273.80 L474.66,274.31 L474.67,274.82 L474.69,275.33 L474.70,275.84 L474.72,276.35 L474.73,276.86 L474.74,277.37 L474.76,277.87 L474.77,278.38 L474.79,278.89 L474.80,279.40 L475.18,293.40 L478.63,293.40 L479.00,279.40 L479.01,278.97 L479.02,278.53 L479.04,278.10 L479.05,277.66 L479.06,277.23 L479.07,276.79 L479.08,276.36 L479.10,275.92 L479.11,275.49 L479.12,275.05 L479.13,274.62 L479.15,274.18 L479.16,273.75 L479.17,273.31 L479.18,272.88 L479.20,272.44 L479.21,272.01 L479.22,271.57 L479.24,271.14 L479.25,270.70 L479.27,270.27 L479.28,269.83 L479.29,269.40 L479.31,268.97 L479.32,268.53 L479.34,268.10 L479.35,267.66 L479.37,267.23 L479.38,266.79 L479.40,266.36 L479.41,265.92 L479.43,265.49 L479.44,265.05 L479.46,264.62 L479.48,264.18 L479.49,263.75 L479.51,263.31 L479.53,262.88 L479.54,262.44 L479.56,262.01 L479.58,261.57 L479.60,261.14 L479.62,260.70 L479.64,260.27 L479.66,259.83 L479.68,259.40 L479.70,258.97 L479.72,258.53 L479.74,258.10 L479.76,257.66 L479.78,257.23 L479.81,256.79 L479.83,256.36 L479.85,255.92 L479.88,255.49 L479.91,255.05 L479.93,254.62 L479.96,254.18 L479.99,253.75 L480.02,253.31 L480.06,252.88 L480.09,252.44 L480.13,252.01 L480.17,251.57 L480.21,251.14 L480.27,250.70 L480.33,250.27 L480.41,249.83 L480.60,249.40 L480.77,249.83 L480.84,250.27 L480.89,250.70 L480.94,251.14 L480.98,251.57 L481.01,252.01 L481.05,252.44 L481.08,252.88 L481.11,253.31 L481.13,253.75 L481.16,254.18 L481.18,254.62 L481.21,255.05 L481.23,255.49 L481.25,255.92 L481.27,256.36 L481.29,256.79 L481.32,257.23 L481.33,257.66 L481.35,258.10 L481.37,258.53 L481.39,258.97 L481.41,259.40 L481.43,259.83 L481.44,260.27 L481.46,260.70 L481.48,261.14 L481.49,261.57 L481.51,262.01 L481.52,262.44 L481.54,262.88 L481.55,263.31 L481.57,263.75 L481.58,264.18 L481.60,264.62 L481.61,265.05 L481.63,265.49 L481.64,265.92 L481.65,266.36 L481.67,266.79 L481.68,267.23 L481.69,267.66 L481.71,268.10 L481.72,268.53 L481.73,268.97 L481.74,269.40 L481.76,269.83 L481.77,270.27 L481.78,270.70 L481.79,271.14 L481.80,271.57 L481.82,272.01 L481.83,272.44 L481.84,272.88 L481.85,273.31 L481.86,273.75 L481.87,274.18 L481.88,274.62 L481.89,275.05 L481.91,275.49 L481.92,275.92 L481.93,276.36 L481.94,276.79 L481.95,277.23 L481.96,277.66 L481.97,278.10 L481.98,278.53 L481.99,278.97 L482.00,279.40 L482.33,293.40 L485.70,293.40 L486.20,279.40 L486.21,279.01 L486.23,278.63 L486.24,278.24 L486.26,277.85 L486.27,277.47 L486.28,277.08 L486.30,276.69 L486.31,276.30 L486.33,275.92 L486.34,275.53 L486.36,275.14 L486.37,274.76 L486.39,274.37 L486.40,273.98 L486.42,273.60 L486.43,273.21 L486.45,272.82 L486.47,272.43 L486.48,272.05 L486.50,271.66 L486.52,271.27 L486.53,270.89 L486.55,270.50 L486.57,270.11 L486.58,269.73 L486.60,269.34 L486.62,268.95 L486.64,268.57 L486.65,268.18 L486.67,267.79 L486.69,267.40 L486.71,267.02 L486.73,266.63 L486.75,266.24 L486.77,265.86 L486.79,265.47 L486.81,265.08 L486.83,264.70 L486.85,264.31 L486.87,263.92 L486.89,263.53 L486.91,263.15 L486.93,262.76 L486.96,262.37 L486.98,261.99 L487.00,261.60 L487.03,261.21 L487.05,260.83 L487.08,260.44 L487.10,260.05 L487.13,259.67 L487.16,259.28 L487.19,258.89 L487.21,258.50 L487.24,258.12 L487.28,257.73 L487.31,257.34 L487.34,256.96 L487.38,256.57 L487.41,256.18 L487.45,255.80 L487.49,255.41 L487.54,255.02 L487.59,254.63 L487.64,254.25 L487.70,253.86 L487.78,253.47 L487.87,253.09 L488.10,252.70 L488.32,253.09 L488.41,253.47 L488.48,253.86 L488.53,254.25 L488.58,254.63 L488.63,255.02 L488.67,255.41 L488.71,255.80 L488.75,256.18 L488.79,256.57 L488.82,256.96 L488.85,257.34 L488.88,257.73 L488.91,258.12 L488.94,258.50 L488.97,258.89 L488.99,259.28 L489.02,259.67 L489.04,260.05 L489.07,260.44 L489.09,260.83 L489.12,261.21 L489.14,261.60 L489.16,261.99 L489.18,262.37 L489.20,262.76 L489.23,263.15 L489.25,263.53 L489.27,263.92 L489.29,264.31 L489.31,264.70 L489.33,265.08 L489.34,265.47 L489.36,265.86 L489.38,266.24 L489.40,266.63 L489.42,267.02 L489.44,267.40 L489.45,267.79 L489.47,268.18 L489.49,268.57 L489.50,268.95 L489.52,269.34 L489.54,269.73 L489.55,270.11 L489.57,270.50 L489.59,270.89 L489.60,271.27 L489.62,271.66 L489.63,272.05 L489.65,272.43 L489.66,272.82 L489.68,273.21 L489.69,273.60 L489.71,273.98 L489.72,274.37 L489.74,274.76 L489.75,275.14 L489.76,275.53 L489.78,275.92 L489.79,276.30 L489.81,276.69 L489.82,277.08 L489.83,277.47 L489.85,277.85 L489.86,278.24 L489.87,278.63 L489.89,279.01 L489.90,279.40 L490.37,293.40 L493.17,293.40 L493.60,279.40 L493.61,279.00 L493.62,278.59 L493.64,278.19 L493.65,277.78 L493.66,277.38 L493.68,276.97 L493.69,276.57 L493.70,276.17 L493.71,275.76 L493.73,275.36 L493.74,274.95 L493.75,274.55 L493.77,274.14 L493.78,273.74 L493.80,273.33 L493.81,272.93 L493.82,272.53 L493.84,272.12 L493.85,271.72 L493.87,271.31 L493.88,270.91 L493.90,270.50 L493.91,270.10 L493.93,269.70 L493.94,269.29 L493.96,268.89 L493.97,268.48 L493.99,268.08 L494.01,267.67 L494.02,267.27 L494.04,266.87 L494.06,266.46 L494.07,266.06 L494.09,265.65 L494.11,265.25 L494.12,264.84 L494.14,264.44 L494.16,264.03 L494.18,263.63 L494.20,263.23 L494.22,262.82 L494.24,262.42 L494.26,262.01 L494.28,261.61 L494.30,261.20 L494.32,260.80 L494.34,260.40 L494.36,259.99 L494.38,259.59 L494.41,259.18 L494.43,258.78 L494.46,258.37 L494.48,257.97 L494.51,257.57 L494.53,257.16 L494.56,256.76 L494.59,256.35 L494.62,255.95 L494.65,255.54 L494.69,255.14 L494.72,254.73 L494.76,254.33 L494.80,253.93 L494.84,253.52 L494.89,253.12 L494.95,252.71 L495.01,252.31 L495.10,251.90 L495.30,251.50 L495.53,251.90 L495.62,252.31 L495.70,252.71 L495.76,253.12 L495.81,253.52 L495.86,253.93 L495.91,254.33 L495.95,254.73 L495.99,255.14 L496.02,255.54 L496.06,255.95 L496.09,256.35 L496.12,256.76 L496.16,257.16 L496.19,257.57 L496.21,257.97 L496.24,258.37 L496.27,258.78 L496.30,259.18 L496.32,259.59 L496.35,259.99 L496.37,260.40 L496.40,260.80 L496.42,261.20 L496.44,261.61 L496.47,262.01 L496.49,262.42 L496.51,262.82 L496.53,263.23 L496.55,263.63 L496.57,264.03 L496.59,264.44 L496.61,264.84 L496.63,265.25 L496.65,265.65 L496.67,266.06 L496.69,266.46 L496.71,266.87 L496.73,267.27 L496.75,267.67 L496.76,268.08 L496.78,268.48 L496.80,268.89 L496.82,269.29 L496.83,269.70 L496.85,270.10 L496.87,270.50 L496.88,270.91 L496.90,271.31 L496.92,271.72 L496.93,272.12 L496.95,272.53 L496.97,272.93 L496.98,273.33 L497.00,273.74 L497.01,274.14 L497.03,274.55 L497.04,274.95 L497.06,275.36 L497.07,275.76 L497.09,276.17 L497.10,276.57 L497.12,276.97 L497.13,277.38 L497.14,277.78 L497.16,278.19 L497.17,278.59 L497.19,279.00 L497.20,279.40 L497.68,293.40 L500.54,293.40 L501.40,279.40 L501.41,279.26 L501.42,279.12 L501.43,278.97 L501.44,278.83 L501.44,278.69 L501.45,278.55 L501.46,278.41 L501.47,278.26 L501.48,278.12 L501.49,277.98 L501.50,277.84 L501.51,277.70 L501.52,277.55 L501.53,277.41 L501.54,277.27 L501.55,277.13 L501.56,276.99 L501.57,276.84 L501.58,276.70 L501.59,276.56 L501.60,276.42 L501.61,276.28 L501.62,276.13 L501.63,275.99 L501.64,275.85 L501.65,275.71 L501.66,275.57 L501.67,275.42 L501.69,275.28 L501.70,275.14 L501.71,275.00 L501.72,274.86 L501.73,274.71 L501.75,274.57 L501.76,274.43 L501.77,274.29 L501.78,274.14 L501.80,274.00 L501.81,273.86 L501.82,273.72 L501.84,273.58 L501.85,273.43 L501.86,273.29 L501.88,273.15 L501.89,273.01 L501.91,272.87 L501.92,272.72 L501.94,272.58 L501.95,272.44 L501.97,272.30 L501.99,272.16 L502.00,272.01 L502.02,271.87 L502.04,271.73 L502.06,271.59 L502.08,271.45 L502.10,271.30 L502.12,271.16 L502.14,271.02 L502.17,270.88 L502.19,270.74 L502.22,270.59 L502.25,270.45 L502.28,270.31 L502.31,270.17 L502.35,270.03 L502.40,269.88 L502.46,269.74 L502.60,269.60 L502.74,269.74 L502.80,269.88 L502.85,270.03 L502.89,270.17 L502.92,270.31 L502.95,270.45 L502.98,270.59 L503.01,270.74 L503.03,270.88 L503.06,271.02 L503.08,271.16 L503.10,271.30 L503.12,271.45 L503.14,271.59 L503.16,271.73 L503.18,271.87 L503.20,272.01 L503.21,272.16 L503.23,272.30 L503.25,272.44 L503.26,272.58 L503.28,272.72 L503.29,272.87 L503.31,273.01 L503.32,273.15 L503.34,273.29 L503.35,273.43 L503.36,273.58 L503.38,273.72 L503.39,273.86 L503.40,274.00 L503.42,274.14 L503.43,274.29 L503.44,274.43 L503.45,274.57 L503.47,274.71 L503.48,274.86 L503.49,275.00 L503.50,275.14 L503.51,275.28 L503.53,275.42 L503.54,275.57 L503.55,275.71 L503.56,275.85 L503.57,275.99 L503.58,276.13 L503.59,276.28 L503.60,276.42 L503.61,276.56 L503.62,276.70 L503.63,276.84 L503.64,276.99 L503.65,277.13 L503.66,277.27 L503.67,277.41 L503.68,277.55 L503.69,277.70 L503.70,277.84 L503.71,277.98 L503.72,278.12 L503.73,278.26 L503.74,278.41 L503.75,278.55 L503.76,278.69 L503.76,278.83 L503.77,278.97 L503.78,279.12 L503.79,279.26 L503.80,279.40 L504.66,293.40" stroke="#0626ff"/>
</g>
<line x1="330.6" y1="10" x2="330.6" y2="283.5" stroke="#ff0000" stroke-width="1.8" stroke-dasharray="7.2 7.5"/>
<rect x="57.5" y="14.0" width="472.1" height="265.4" fill="none" stroke="#8a8a8a" stroke-width="1.2"/>
<g font-size="17.5">
<text x="49.2" y="284.20" text-anchor="end">-10</text><text x="49.2" y="239.97" text-anchor="end">-5</text><text x="49.2" y="195.73" text-anchor="end">0</text><text x="49.2" y="151.50" text-anchor="end">5</text><text x="49.2" y="107.27" text-anchor="end">10</text><text x="49.2" y="63.03" text-anchor="end">15</text><text x="49.2" y="18.80" text-anchor="end">20</text>
<text x="57.50" y="294.4" text-anchor="middle">-200</text><text x="175.53" y="294.4" text-anchor="middle">-100</text><text x="293.55" y="294.4" text-anchor="middle">0</text><text x="328.96" y="294.4" text-anchor="middle">30</text><text x="411.57" y="294.4" text-anchor="middle">100</text><text x="529.60" y="294.4" text-anchor="middle">200</text>
</g>
<rect x="89.4" y="40.9" width="93.8" height="46.5" fill="#fff" stroke="#8a8a8a" stroke-width="1.1"/>
<line x1="92.2" y1="53.7" x2="130.5" y2="53.7" stroke="#ff0000" stroke-width="2.6" stroke-linecap="round"/>
<line x1="92.2" y1="75.0" x2="130.5" y2="75.0" stroke="#0626ff" stroke-width="2.6" stroke-linecap="round"/>
<text x="135.6" y="59.2" font-size="17.5">LHCP</text>
<text x="135.6" y="80.6" font-size="17.5">RHCP</text>
<text x="195.6" y="313.3" font-size="17.5">Elevation Angle, <tspan font-style="italic">θ</tspan><tspan dx="1.3">(degrees)</tspan></text>
<text x="270.6" y="337.6" font-size="17">(<tspan style="stroke-width:0.7px">c</tspan>)</text>
<text transform="translate(22.0,146.8) rotate(-90)" text-anchor="middle" font-size="17.2">Gain (dBi)</text>
</svg>
</body></html>
